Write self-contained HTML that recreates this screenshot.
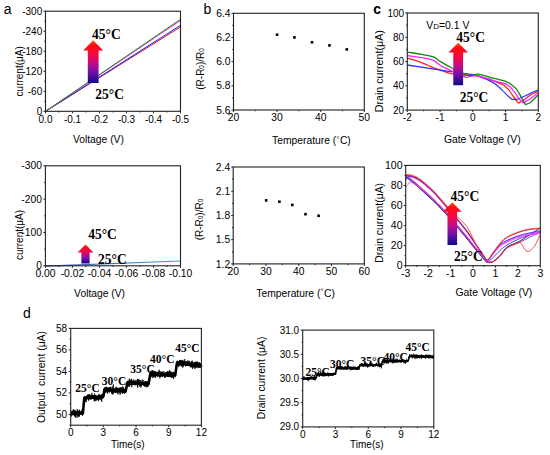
<!DOCTYPE html>
<html><head><meta charset="utf-8"><style>
html,body{margin:0;padding:0;background:#fff;}
svg{display:block;}
</style></head><body>
<svg width="550" height="455" viewBox="0 0 550 455">
<rect width="550" height="455" fill="#fff"/>
<defs><linearGradient id="g1" x1="0" y1="0" x2="0" y2="1"><stop offset="0" stop-color="#ff5a10"/><stop offset="0.12" stop-color="#ff0a10"/><stop offset="0.3" stop-color="#f8083a"/><stop offset="0.5" stop-color="#d00a7a"/><stop offset="0.72" stop-color="#7a10a8"/><stop offset="1" stop-color="#10088a"/></linearGradient></defs>
<polyline points="45.50,111.30 180.50,26.90" fill="none" stroke="#d01010" stroke-width="1.0" stroke-linejoin="round" />
<polyline points="45.50,111.30 180.50,25.30" fill="none" stroke="#2020ff" stroke-width="1.0" stroke-linejoin="round" />
<polyline points="45.50,111.30 180.50,20.40" fill="none" stroke="#ff20ff" stroke-width="1.0" stroke-linejoin="round" />
<polyline points="45.50,111.30 180.50,19.30" fill="none" stroke="#1a8a1a" stroke-width="1.0" stroke-linejoin="round" />
<path d="M93.20,40.20 L103.20,50.60 L98.60,50.60 L98.60,83.00 L87.80,83.00 L87.80,50.60 L83.20,50.60 Z" fill="url(#g1)"/>
<rect x="45.50" y="11.20" width="135.00" height="100.10" fill="none" stroke="#222" stroke-width="1.1"/>
<line x1="45.50" y1="111.30" x2="45.50" y2="113.30" stroke="#222" stroke-width="1"/>
<text x="45.50" y="122.50" font-size="10" text-anchor="middle" font-family='"Liberation Sans", sans-serif' font-weight="normal" >0.0</text>
<line x1="59.00" y1="111.30" x2="59.00" y2="112.50" stroke="#222" stroke-width="1"/>
<line x1="72.50" y1="111.30" x2="72.50" y2="113.30" stroke="#222" stroke-width="1"/>
<text x="72.50" y="122.50" font-size="10" text-anchor="middle" font-family='"Liberation Sans", sans-serif' font-weight="normal" >-0.1</text>
<line x1="86.00" y1="111.30" x2="86.00" y2="112.50" stroke="#222" stroke-width="1"/>
<line x1="99.50" y1="111.30" x2="99.50" y2="113.30" stroke="#222" stroke-width="1"/>
<text x="99.50" y="122.50" font-size="10" text-anchor="middle" font-family='"Liberation Sans", sans-serif' font-weight="normal" >-0.2</text>
<line x1="113.00" y1="111.30" x2="113.00" y2="112.50" stroke="#222" stroke-width="1"/>
<line x1="126.50" y1="111.30" x2="126.50" y2="113.30" stroke="#222" stroke-width="1"/>
<text x="126.50" y="122.50" font-size="10" text-anchor="middle" font-family='"Liberation Sans", sans-serif' font-weight="normal" >-0.3</text>
<line x1="140.00" y1="111.30" x2="140.00" y2="112.50" stroke="#222" stroke-width="1"/>
<line x1="153.50" y1="111.30" x2="153.50" y2="113.30" stroke="#222" stroke-width="1"/>
<text x="153.50" y="122.50" font-size="10" text-anchor="middle" font-family='"Liberation Sans", sans-serif' font-weight="normal" >-0.4</text>
<line x1="167.00" y1="111.30" x2="167.00" y2="112.50" stroke="#222" stroke-width="1"/>
<line x1="180.50" y1="111.30" x2="180.50" y2="113.30" stroke="#222" stroke-width="1"/>
<text x="180.50" y="122.50" font-size="10" text-anchor="middle" font-family='"Liberation Sans", sans-serif' font-weight="normal" >-0.5</text>
<line x1="43.50" y1="111.30" x2="45.50" y2="111.30" stroke="#222" stroke-width="1"/>
<text x="42.20" y="114.85" font-size="10" text-anchor="end" font-family='"Liberation Sans", sans-serif' font-weight="normal" >0</text>
<line x1="44.30" y1="101.29" x2="45.50" y2="101.29" stroke="#222" stroke-width="1"/>
<line x1="43.50" y1="91.28" x2="45.50" y2="91.28" stroke="#222" stroke-width="1"/>
<text x="42.20" y="94.83" font-size="10" text-anchor="end" font-family='"Liberation Sans", sans-serif' font-weight="normal" >-60</text>
<line x1="44.30" y1="81.27" x2="45.50" y2="81.27" stroke="#222" stroke-width="1"/>
<line x1="43.50" y1="71.26" x2="45.50" y2="71.26" stroke="#222" stroke-width="1"/>
<text x="42.20" y="74.81" font-size="10" text-anchor="end" font-family='"Liberation Sans", sans-serif' font-weight="normal" >-120</text>
<line x1="44.30" y1="61.25" x2="45.50" y2="61.25" stroke="#222" stroke-width="1"/>
<line x1="43.50" y1="51.24" x2="45.50" y2="51.24" stroke="#222" stroke-width="1"/>
<text x="42.20" y="54.79" font-size="10" text-anchor="end" font-family='"Liberation Sans", sans-serif' font-weight="normal" >-180</text>
<line x1="44.30" y1="41.23" x2="45.50" y2="41.23" stroke="#222" stroke-width="1"/>
<line x1="43.50" y1="31.22" x2="45.50" y2="31.22" stroke="#222" stroke-width="1"/>
<text x="42.20" y="34.77" font-size="10" text-anchor="end" font-family='"Liberation Sans", sans-serif' font-weight="normal" >-240</text>
<line x1="44.30" y1="21.21" x2="45.50" y2="21.21" stroke="#222" stroke-width="1"/>
<line x1="43.50" y1="11.20" x2="45.50" y2="11.20" stroke="#222" stroke-width="1"/>
<text x="42.20" y="14.75" font-size="10" text-anchor="end" font-family='"Liberation Sans", sans-serif' font-weight="normal" >-300</text>
<text x="98.40" y="143.40" font-size="10.3" text-anchor="middle" font-family='"Liberation Sans", sans-serif' font-weight="normal" >Voltage (V)</text>
<text x="0" y="0" font-size="10" text-anchor="middle" font-family='"Liberation Sans", sans-serif' transform="translate(22.90 71.30) rotate(-90)" >current(μA)</text>
<text x="0" y="0" font-size="13.5" font-family='"Liberation Serif", serif' font-weight="bold" transform="translate(92.00 39.00) scale(1 1.1)">45°C</text>
<text x="0" y="0" font-size="13.5" font-family='"Liberation Serif", serif' font-weight="bold" transform="translate(95.30 98.90) scale(1 1.1)">25°C</text>
<text x="3.80" y="13.80" font-size="14" text-anchor="start" font-family='"Liberation Sans", sans-serif' font-weight="normal" >a</text>
<rect x="233.50" y="13.30" width="130.80" height="96.70" fill="none" stroke="#222" stroke-width="1.1"/>
<line x1="233.50" y1="110.00" x2="233.50" y2="112.00" stroke="#222" stroke-width="1"/>
<text x="233.50" y="121.00" font-size="10.3" text-anchor="middle" font-family='"Liberation Sans", sans-serif' font-weight="normal" >20</text>
<line x1="255.30" y1="110.00" x2="255.30" y2="111.20" stroke="#222" stroke-width="1"/>
<line x1="277.10" y1="110.00" x2="277.10" y2="112.00" stroke="#222" stroke-width="1"/>
<text x="277.10" y="121.00" font-size="10.3" text-anchor="middle" font-family='"Liberation Sans", sans-serif' font-weight="normal" >30</text>
<line x1="298.90" y1="110.00" x2="298.90" y2="111.20" stroke="#222" stroke-width="1"/>
<line x1="320.70" y1="110.00" x2="320.70" y2="112.00" stroke="#222" stroke-width="1"/>
<text x="320.70" y="121.00" font-size="10.3" text-anchor="middle" font-family='"Liberation Sans", sans-serif' font-weight="normal" >40</text>
<line x1="342.50" y1="110.00" x2="342.50" y2="111.20" stroke="#222" stroke-width="1"/>
<line x1="364.30" y1="110.00" x2="364.30" y2="112.00" stroke="#222" stroke-width="1"/>
<text x="364.30" y="121.00" font-size="10.3" text-anchor="middle" font-family='"Liberation Sans", sans-serif' font-weight="normal" >50</text>
<line x1="231.50" y1="110.00" x2="233.50" y2="110.00" stroke="#222" stroke-width="1"/>
<text x="230.50" y="113.66" font-size="10.3" text-anchor="end" font-family='"Liberation Sans", sans-serif' font-weight="normal" >5.6</text>
<line x1="232.30" y1="97.91" x2="233.50" y2="97.91" stroke="#222" stroke-width="1"/>
<line x1="231.50" y1="85.83" x2="233.50" y2="85.83" stroke="#222" stroke-width="1"/>
<text x="230.50" y="89.48" font-size="10.3" text-anchor="end" font-family='"Liberation Sans", sans-serif' font-weight="normal" >5.8</text>
<line x1="232.30" y1="73.74" x2="233.50" y2="73.74" stroke="#222" stroke-width="1"/>
<line x1="231.50" y1="61.65" x2="233.50" y2="61.65" stroke="#222" stroke-width="1"/>
<text x="230.50" y="65.31" font-size="10.3" text-anchor="end" font-family='"Liberation Sans", sans-serif' font-weight="normal" >6.0</text>
<line x1="232.30" y1="49.56" x2="233.50" y2="49.56" stroke="#222" stroke-width="1"/>
<line x1="231.50" y1="37.47" x2="233.50" y2="37.47" stroke="#222" stroke-width="1"/>
<text x="230.50" y="41.13" font-size="10.3" text-anchor="end" font-family='"Liberation Sans", sans-serif' font-weight="normal" >6.2</text>
<line x1="232.30" y1="25.39" x2="233.50" y2="25.39" stroke="#222" stroke-width="1"/>
<line x1="231.50" y1="13.30" x2="233.50" y2="13.30" stroke="#222" stroke-width="1"/>
<text x="230.50" y="16.96" font-size="10.3" text-anchor="end" font-family='"Liberation Sans", sans-serif' font-weight="normal" >6.4</text>
<rect x="275.80" y="33.40" width="2.6" height="2.6" fill="#000"/>
<rect x="293.10" y="36.10" width="2.6" height="2.6" fill="#000"/>
<rect x="310.70" y="41.00" width="2.6" height="2.6" fill="#000"/>
<rect x="328.20" y="44.10" width="2.6" height="2.6" fill="#000"/>
<rect x="345.50" y="48.10" width="2.6" height="2.6" fill="#000"/>
<text x="272.10" y="144.00" font-size="10.3" text-anchor="start" font-family='"Liberation Sans", sans-serif' font-weight="normal" >Temperature (<tspan font-size="7" dy="-2.4" dx="0.3">°</tspan><tspan dy="2.4" dx="0.6">C)</tspan></text>
<text x="0" y="0" font-size="10" text-anchor="middle" font-family='"Liberation Sans", sans-serif' transform="translate(203.80 68.90) rotate(-90)" >(R-R<tspan font-size="6.5" dy="0.4">0</tspan><tspan dy="-0.4">)/R</tspan><tspan font-size="6.5" dy="0.4">0</tspan></text>
<text x="203.60" y="13.80" font-size="14" text-anchor="start" font-family='"Liberation Sans", sans-serif' font-weight="normal" >b</text>
<path d="M407.30,58.20 C409.23,58.77 415.42,60.38 418.90,61.60 C422.38,62.82 425.37,64.33 428.20,65.50 C431.03,66.67 432.03,67.23 435.90,68.60 C439.77,69.97 446.83,72.63 451.40,73.70 C455.97,74.77 459.13,74.65 463.30,75.00 C467.47,75.35 472.40,75.12 476.40,75.80 C480.40,76.48 484.03,78.10 487.30,79.10 C490.57,80.10 493.28,80.80 496.00,81.80 C498.72,82.80 502.33,84.55 503.60,85.10" fill="none" stroke="#ff2020" stroke-width="1.3" stroke-linejoin="round" />
<polyline points="503.60,85.10 509.10,90.00 513.00,96.00 516.40,100.50 518.60,103.10 525.00,99.00 531.00,94.50 538.00,91.40" fill="none" stroke="#ff2020" stroke-width="1.3" stroke-linejoin="round" />
<path d="M407.30,65.00 C412.07,65.73 428.55,68.28 435.90,69.40 C443.25,70.52 446.83,71.05 451.40,71.70 C455.97,72.35 459.13,72.70 463.30,73.30 C467.47,73.90 472.40,74.25 476.40,75.30 C480.40,76.35 484.03,78.07 487.30,79.60 C490.57,81.13 493.28,82.50 496.00,84.50 C498.72,86.50 502.33,90.42 503.60,91.60" fill="none" stroke="#3030ff" stroke-width="1.3" stroke-linejoin="round" />
<polyline points="503.60,91.60 509.10,97.10 511.80,99.30 516.70,99.50 525.00,96.00 531.00,93.00 538.00,90.00" fill="none" stroke="#3030ff" stroke-width="1.3" stroke-linejoin="round" />
<path d="M407.30,55.50 C410.25,55.95 420.48,57.30 425.00,58.20 C429.52,59.10 431.82,59.68 434.40,60.90 C436.98,62.12 438.18,64.08 440.50,65.50 C442.82,66.92 445.72,68.15 448.30,69.40 C450.88,70.65 453.17,71.72 456.00,73.00 C458.83,74.28 463.23,76.47 465.30,77.10 C467.37,77.73 466.62,77.05 468.40,76.80 C470.18,76.55 472.90,75.32 476.00,75.60 C479.10,75.88 483.67,77.55 487.00,78.50 C490.33,79.45 493.00,80.48 496.00,81.30 C499.00,82.12 503.50,83.05 505.00,83.40" fill="none" stroke="#ff20ff" stroke-width="1.3" stroke-linejoin="round" />
<polyline points="505.00,83.40 510.00,86.70 515.00,92.70 519.30,99.30 522.90,102.90 530.00,99.00 538.00,92.90" fill="none" stroke="#ff20ff" stroke-width="1.3" stroke-linejoin="round" />
<path d="M407.30,52.10 C409.50,52.45 416.25,53.43 420.50,54.20 C424.75,54.97 429.47,55.47 432.80,56.70 C436.13,57.93 437.40,59.75 440.50,61.60 C443.60,63.45 448.65,66.32 451.40,67.80 C454.15,69.28 454.95,69.53 457.00,70.50 C459.05,71.47 461.53,72.72 463.70,73.60 C465.87,74.48 467.62,75.70 470.00,75.80 C472.38,75.90 474.67,73.93 478.00,74.20 C481.33,74.47 485.67,76.32 490.00,77.40 C494.33,78.48 501.67,80.15 504.00,80.70" fill="none" stroke="#108a10" stroke-width="1.3" stroke-linejoin="round" />
<polyline points="504.00,80.70 510.00,83.40 516.00,88.40 520.00,94.90 525.40,104.60 530.00,103.00 538.00,95.00" fill="none" stroke="#108a10" stroke-width="1.3" stroke-linejoin="round" />
<path d="M458.20,42.80 L468.00,52.40 L463.10,52.40 L463.10,85.30 L453.30,85.30 L453.30,52.40 L448.40,52.40 Z" fill="url(#g1)"/>
<rect x="407.30" y="13.00" width="131.00" height="97.10" fill="none" stroke="#222" stroke-width="1.1"/>
<line x1="407.30" y1="110.10" x2="407.30" y2="112.10" stroke="#222" stroke-width="1"/>
<text x="407.30" y="120.70" font-size="10" text-anchor="middle" font-family='"Liberation Sans", sans-serif' font-weight="normal" >-2</text>
<line x1="423.68" y1="110.10" x2="423.68" y2="111.30" stroke="#222" stroke-width="1"/>
<line x1="440.05" y1="110.10" x2="440.05" y2="112.10" stroke="#222" stroke-width="1"/>
<text x="440.05" y="120.70" font-size="10" text-anchor="middle" font-family='"Liberation Sans", sans-serif' font-weight="normal" >-1</text>
<line x1="456.42" y1="110.10" x2="456.42" y2="111.30" stroke="#222" stroke-width="1"/>
<line x1="472.80" y1="110.10" x2="472.80" y2="112.10" stroke="#222" stroke-width="1"/>
<text x="472.80" y="120.70" font-size="10" text-anchor="middle" font-family='"Liberation Sans", sans-serif' font-weight="normal" >0</text>
<line x1="489.17" y1="110.10" x2="489.17" y2="111.30" stroke="#222" stroke-width="1"/>
<line x1="505.55" y1="110.10" x2="505.55" y2="112.10" stroke="#222" stroke-width="1"/>
<text x="505.55" y="120.70" font-size="10" text-anchor="middle" font-family='"Liberation Sans", sans-serif' font-weight="normal" >1</text>
<line x1="521.92" y1="110.10" x2="521.92" y2="111.30" stroke="#222" stroke-width="1"/>
<line x1="538.30" y1="110.10" x2="538.30" y2="112.10" stroke="#222" stroke-width="1"/>
<text x="538.30" y="120.70" font-size="10" text-anchor="middle" font-family='"Liberation Sans", sans-serif' font-weight="normal" >2</text>
<line x1="405.30" y1="110.10" x2="407.30" y2="110.10" stroke="#222" stroke-width="1"/>
<text x="404.20" y="113.65" font-size="10" text-anchor="end" font-family='"Liberation Sans", sans-serif' font-weight="normal" >20</text>
<line x1="406.10" y1="97.96" x2="407.30" y2="97.96" stroke="#222" stroke-width="1"/>
<line x1="405.30" y1="85.82" x2="407.30" y2="85.82" stroke="#222" stroke-width="1"/>
<text x="404.20" y="89.37" font-size="10" text-anchor="end" font-family='"Liberation Sans", sans-serif' font-weight="normal" >40</text>
<line x1="406.10" y1="73.69" x2="407.30" y2="73.69" stroke="#222" stroke-width="1"/>
<line x1="405.30" y1="61.55" x2="407.30" y2="61.55" stroke="#222" stroke-width="1"/>
<text x="404.20" y="65.10" font-size="10" text-anchor="end" font-family='"Liberation Sans", sans-serif' font-weight="normal" >60</text>
<line x1="406.10" y1="49.41" x2="407.30" y2="49.41" stroke="#222" stroke-width="1"/>
<line x1="405.30" y1="37.28" x2="407.30" y2="37.28" stroke="#222" stroke-width="1"/>
<text x="404.20" y="40.83" font-size="10" text-anchor="end" font-family='"Liberation Sans", sans-serif' font-weight="normal" >80</text>
<line x1="406.10" y1="25.14" x2="407.30" y2="25.14" stroke="#222" stroke-width="1"/>
<line x1="405.30" y1="13.00" x2="407.30" y2="13.00" stroke="#222" stroke-width="1"/>
<text x="404.20" y="16.55" font-size="10" text-anchor="end" font-family='"Liberation Sans", sans-serif' font-weight="normal" >100</text>
<text x="482.30" y="142.70" font-size="10.4" text-anchor="middle" font-family='"Liberation Sans", sans-serif' font-weight="normal" >Gate Voltage (V)</text>
<text x="0" y="0" font-size="10.7" text-anchor="middle" font-family='"Liberation Sans", sans-serif' transform="translate(383.30 71.20) rotate(-90)" >Drain current(μA)</text>
<text x="426.30" y="28.80" font-size="10.4" text-anchor="start" font-family='"Liberation Sans", sans-serif' font-weight="normal" >V<tspan font-size="8">D</tspan>=0.1 V</text>
<text x="0" y="0" font-size="13.5" font-family='"Liberation Serif", serif' font-weight="bold" transform="translate(456.30 42.10) scale(1 1.1)">45°C</text>
<text x="0" y="0" font-size="13.5" font-family='"Liberation Serif", serif' font-weight="bold" transform="translate(459.70 101.60) scale(1 1.1)">25°C</text>
<text x="373.20" y="13.60" font-size="14" text-anchor="start" font-family='"Liberation Sans", sans-serif' font-weight="bold" >c</text>
<defs><linearGradient id="gl" x1="0" y1="0" x2="1" y2="0"><stop offset="0" stop-color="#4040c8"/><stop offset="0.5" stop-color="#3a78c0"/><stop offset="1" stop-color="#3aa0d8"/></linearGradient></defs>
<path d="M45.4,265.5 L180.5,260.4 L180.5,261.6 L45.4,266.7 Z" fill="url(#gl)"/>
<path d="M85.50,244.40 L93.50,252.60 L89.60,252.60 L89.60,263.50 L81.40,263.50 L81.40,252.60 L77.50,252.60 Z" fill="url(#g1)"/>
<rect x="45.40" y="165.80" width="135.10" height="100.00" fill="none" stroke="#222" stroke-width="1.1"/>
<line x1="45.40" y1="265.80" x2="45.40" y2="267.80" stroke="#222" stroke-width="1"/>
<text x="45.40" y="277.00" font-size="10.3" text-anchor="middle" font-family='"Liberation Sans", sans-serif' font-weight="normal" >0.00</text>
<line x1="58.91" y1="265.80" x2="58.91" y2="267.00" stroke="#222" stroke-width="1"/>
<line x1="72.42" y1="265.80" x2="72.42" y2="267.80" stroke="#222" stroke-width="1"/>
<text x="72.42" y="277.00" font-size="10.3" text-anchor="middle" font-family='"Liberation Sans", sans-serif' font-weight="normal" >-0.02</text>
<line x1="85.93" y1="265.80" x2="85.93" y2="267.00" stroke="#222" stroke-width="1"/>
<line x1="99.44" y1="265.80" x2="99.44" y2="267.80" stroke="#222" stroke-width="1"/>
<text x="99.44" y="277.00" font-size="10.3" text-anchor="middle" font-family='"Liberation Sans", sans-serif' font-weight="normal" >-0.04</text>
<line x1="112.95" y1="265.80" x2="112.95" y2="267.00" stroke="#222" stroke-width="1"/>
<line x1="126.46" y1="265.80" x2="126.46" y2="267.80" stroke="#222" stroke-width="1"/>
<text x="126.46" y="277.00" font-size="10.3" text-anchor="middle" font-family='"Liberation Sans", sans-serif' font-weight="normal" >-0.06</text>
<line x1="139.97" y1="265.80" x2="139.97" y2="267.00" stroke="#222" stroke-width="1"/>
<line x1="153.48" y1="265.80" x2="153.48" y2="267.80" stroke="#222" stroke-width="1"/>
<text x="153.48" y="277.00" font-size="10.3" text-anchor="middle" font-family='"Liberation Sans", sans-serif' font-weight="normal" >-0.08</text>
<line x1="166.99" y1="265.80" x2="166.99" y2="267.00" stroke="#222" stroke-width="1"/>
<line x1="180.50" y1="265.80" x2="180.50" y2="267.80" stroke="#222" stroke-width="1"/>
<text x="180.50" y="277.00" font-size="10.3" text-anchor="middle" font-family='"Liberation Sans", sans-serif' font-weight="normal" >-0.10</text>
<line x1="43.40" y1="265.80" x2="45.40" y2="265.80" stroke="#222" stroke-width="1"/>
<text x="41.90" y="269.46" font-size="10.3" text-anchor="end" font-family='"Liberation Sans", sans-serif' font-weight="normal" >0</text>
<line x1="44.20" y1="249.13" x2="45.40" y2="249.13" stroke="#222" stroke-width="1"/>
<line x1="43.40" y1="232.47" x2="45.40" y2="232.47" stroke="#222" stroke-width="1"/>
<text x="41.90" y="236.12" font-size="10.3" text-anchor="end" font-family='"Liberation Sans", sans-serif' font-weight="normal" >-100</text>
<line x1="44.20" y1="215.80" x2="45.40" y2="215.80" stroke="#222" stroke-width="1"/>
<line x1="43.40" y1="199.13" x2="45.40" y2="199.13" stroke="#222" stroke-width="1"/>
<text x="41.90" y="202.79" font-size="10.3" text-anchor="end" font-family='"Liberation Sans", sans-serif' font-weight="normal" >-200</text>
<line x1="44.20" y1="182.47" x2="45.40" y2="182.47" stroke="#222" stroke-width="1"/>
<line x1="43.40" y1="165.80" x2="45.40" y2="165.80" stroke="#222" stroke-width="1"/>
<text x="41.90" y="169.46" font-size="10.3" text-anchor="end" font-family='"Liberation Sans", sans-serif' font-weight="normal" >-300</text>
<text x="99.60" y="296.50" font-size="10.3" text-anchor="middle" font-family='"Liberation Sans", sans-serif' font-weight="normal" >Voltage (V)</text>
<text x="0" y="0" font-size="10" text-anchor="middle" font-family='"Liberation Sans", sans-serif' transform="translate(23.00 235.00) rotate(-90)" >current(μA)</text>
<text x="0" y="0" font-size="13.5" font-family='"Liberation Serif", serif' font-weight="bold" transform="translate(88.20 238.80) scale(1 1.1)">45°C</text>
<text x="0" y="0" font-size="13.5" font-family='"Liberation Serif", serif' font-weight="bold" transform="translate(98.00 264.30) scale(1 1.1)">25°C</text>
<rect x="233.20" y="167.00" width="131.10" height="96.90" fill="none" stroke="#222" stroke-width="1.1"/>
<line x1="233.20" y1="263.90" x2="233.20" y2="265.90" stroke="#222" stroke-width="1"/>
<text x="233.20" y="275.40" font-size="10.3" text-anchor="middle" font-family='"Liberation Sans", sans-serif' font-weight="normal" >20</text>
<line x1="249.59" y1="263.90" x2="249.59" y2="265.10" stroke="#222" stroke-width="1"/>
<line x1="265.98" y1="263.90" x2="265.98" y2="265.90" stroke="#222" stroke-width="1"/>
<text x="265.98" y="275.40" font-size="10.3" text-anchor="middle" font-family='"Liberation Sans", sans-serif' font-weight="normal" >30</text>
<line x1="282.36" y1="263.90" x2="282.36" y2="265.10" stroke="#222" stroke-width="1"/>
<line x1="298.75" y1="263.90" x2="298.75" y2="265.90" stroke="#222" stroke-width="1"/>
<text x="298.75" y="275.40" font-size="10.3" text-anchor="middle" font-family='"Liberation Sans", sans-serif' font-weight="normal" >40</text>
<line x1="315.14" y1="263.90" x2="315.14" y2="265.10" stroke="#222" stroke-width="1"/>
<line x1="331.52" y1="263.90" x2="331.52" y2="265.90" stroke="#222" stroke-width="1"/>
<text x="331.52" y="275.40" font-size="10.3" text-anchor="middle" font-family='"Liberation Sans", sans-serif' font-weight="normal" >50</text>
<line x1="347.91" y1="263.90" x2="347.91" y2="265.10" stroke="#222" stroke-width="1"/>
<line x1="364.30" y1="263.90" x2="364.30" y2="265.90" stroke="#222" stroke-width="1"/>
<text x="364.30" y="275.40" font-size="10.3" text-anchor="middle" font-family='"Liberation Sans", sans-serif' font-weight="normal" >60</text>
<line x1="231.20" y1="263.90" x2="233.20" y2="263.90" stroke="#222" stroke-width="1"/>
<text x="230.20" y="267.56" font-size="10.3" text-anchor="end" font-family='"Liberation Sans", sans-serif' font-weight="normal" >1.2</text>
<line x1="232.00" y1="251.79" x2="233.20" y2="251.79" stroke="#222" stroke-width="1"/>
<line x1="231.20" y1="239.67" x2="233.20" y2="239.67" stroke="#222" stroke-width="1"/>
<text x="230.20" y="243.33" font-size="10.3" text-anchor="end" font-family='"Liberation Sans", sans-serif' font-weight="normal" >1.5</text>
<line x1="232.00" y1="227.56" x2="233.20" y2="227.56" stroke="#222" stroke-width="1"/>
<line x1="231.20" y1="215.45" x2="233.20" y2="215.45" stroke="#222" stroke-width="1"/>
<text x="230.20" y="219.11" font-size="10.3" text-anchor="end" font-family='"Liberation Sans", sans-serif' font-weight="normal" >1.8</text>
<line x1="232.00" y1="203.34" x2="233.20" y2="203.34" stroke="#222" stroke-width="1"/>
<line x1="231.20" y1="191.22" x2="233.20" y2="191.22" stroke="#222" stroke-width="1"/>
<text x="230.20" y="194.88" font-size="10.3" text-anchor="end" font-family='"Liberation Sans", sans-serif' font-weight="normal" >2.1</text>
<line x1="232.00" y1="179.11" x2="233.20" y2="179.11" stroke="#222" stroke-width="1"/>
<line x1="231.20" y1="167.00" x2="233.20" y2="167.00" stroke="#222" stroke-width="1"/>
<text x="230.20" y="170.66" font-size="10.3" text-anchor="end" font-family='"Liberation Sans", sans-serif' font-weight="normal" >2.4</text>
<rect x="264.90" y="199.10" width="2.6" height="2.6" fill="#000"/>
<rect x="278.10" y="200.40" width="2.6" height="2.6" fill="#000"/>
<rect x="291.00" y="203.60" width="2.6" height="2.6" fill="#000"/>
<rect x="304.20" y="212.90" width="2.6" height="2.6" fill="#000"/>
<rect x="317.30" y="214.50" width="2.6" height="2.6" fill="#000"/>
<text x="256.30" y="296.60" font-size="10.3" text-anchor="start" font-family='"Liberation Sans", sans-serif' font-weight="normal" >Temperature (<tspan font-size="7" dy="-2.4" dx="0.3">°</tspan><tspan dy="2.4" dx="0.6">C)</tspan></text>
<text x="0" y="0" font-size="10" text-anchor="middle" font-family='"Liberation Sans", sans-serif' transform="translate(202.60 219.50) rotate(-90)" >(R-R<tspan font-size="6.5" dy="0.4">0</tspan><tspan dy="-0.4">)/R</tspan><tspan font-size="6.5" dy="0.4">0</tspan></text>
<path d="M405.70,176.90 C407.08,178.00 411.03,180.98 414.00,183.50 C416.97,186.02 420.38,189.18 423.50,192.00 C426.62,194.82 429.62,197.45 432.70,200.40 C435.78,203.35 439.12,206.67 442.00,209.70 C444.88,212.73 447.33,215.53 450.00,218.60 C452.67,221.67 455.33,224.93 458.00,228.10 C460.67,231.27 463.33,234.35 466.00,237.60 C468.67,240.85 471.67,244.77 474.00,247.60 C476.33,250.43 478.25,252.52 480.00,254.60 C481.75,256.68 483.30,258.80 484.50,260.10 C485.70,261.40 485.85,262.12 487.20,262.40 C488.55,262.68 490.48,262.95 492.60,261.80 C494.72,260.65 497.47,257.97 499.90,255.50 C502.33,253.03 503.85,249.42 507.20,247.00 C510.55,244.58 516.20,243.08 520.00,241.00 C523.80,238.92 526.62,236.67 530.00,234.50 C533.38,232.33 538.58,229.08 540.30,228.00" fill="none" stroke="#202020" stroke-width="0.9" stroke-linejoin="round" />
<path d="M405.70,176.30 C407.08,177.40 411.03,180.38 414.00,182.90 C416.97,185.42 420.38,188.58 423.50,191.40 C426.62,194.22 429.62,196.85 432.70,199.80 C435.78,202.75 439.12,206.07 442.00,209.10 C444.88,212.13 447.33,214.93 450.00,218.00 C452.67,221.07 455.33,224.33 458.00,227.50 C460.67,230.67 463.33,233.75 466.00,237.00 C468.67,240.25 471.67,244.17 474.00,247.00 C476.33,249.83 478.25,251.92 480.00,254.00 C481.75,256.08 483.30,258.20 484.50,259.50 C485.70,260.80 485.85,261.45 487.20,261.80 C488.55,262.15 490.48,262.55 492.60,261.60 C494.72,260.65 497.47,258.43 499.90,256.10 C502.33,253.77 503.85,249.92 507.20,247.60 C510.55,245.28 516.20,243.97 520.00,242.20 C523.80,240.43 526.62,238.62 530.00,237.00 C533.38,235.38 538.58,233.25 540.30,232.50" fill="none" stroke="#8a18c8" stroke-width="0.9" stroke-linejoin="round" />
<path d="M405.70,174.70 C407.08,175.80 411.03,178.78 414.00,181.30 C416.97,183.82 420.38,186.98 423.50,189.80 C426.62,192.62 429.62,195.25 432.70,198.20 C435.78,201.15 439.12,204.47 442.00,207.50 C444.88,210.53 447.33,213.33 450.00,216.40 C452.67,219.47 455.33,222.73 458.00,225.90 C460.67,229.07 463.33,232.15 466.00,235.40 C468.67,238.65 471.67,242.57 474.00,245.40 C476.33,248.23 478.25,250.32 480.00,252.40 C481.75,254.48 483.30,256.60 484.50,257.90 C485.70,259.20 485.85,259.52 487.20,260.20 C488.55,260.88 490.48,262.62 492.60,262.00 C494.72,261.38 497.47,258.83 499.90,256.50 C502.33,254.17 504.18,250.25 507.20,248.00 C510.22,245.75 515.75,243.85 518.00,243.00 C520.25,242.15 519.18,241.50 520.70,242.90 C522.22,244.30 524.83,250.82 527.10,251.40 C529.37,251.98 532.10,249.25 534.30,246.40 C536.50,243.55 539.30,236.32 540.30,234.30" fill="none" stroke="#ff3030" stroke-width="0.9" stroke-linejoin="round" />
<path d="M405.70,175.70 C407.08,176.80 411.03,179.78 414.00,182.30 C416.97,184.82 420.38,187.98 423.50,190.80 C426.62,193.62 429.62,196.25 432.70,199.20 C435.78,202.15 439.12,205.47 442.00,208.50 C444.88,211.53 447.33,214.33 450.00,217.40 C452.67,220.47 455.33,223.73 458.00,226.90 C460.67,230.07 463.33,233.15 466.00,236.40 C468.67,239.65 471.67,243.57 474.00,246.40 C476.33,249.23 478.25,251.32 480.00,253.40 C481.75,255.48 483.30,257.60 484.50,258.90 C485.70,260.20 485.85,261.35 487.20,261.20 C488.55,261.05 490.48,259.78 492.60,258.00 C494.72,256.22 497.47,252.67 499.90,250.50 C502.33,248.33 503.85,247.00 507.20,245.00 C510.55,243.00 514.48,240.75 520.00,238.50 C525.52,236.25 536.92,232.67 540.30,231.50" fill="none" stroke="#3030ff" stroke-width="0.9" stroke-linejoin="round" />
<path d="M405.70,187.00 C406.17,186.50 407.53,184.78 408.50,184.00 C409.47,183.22 409.00,181.27 411.50,182.30 C414.00,183.33 419.97,187.48 423.50,190.20 C427.03,192.92 429.62,195.65 432.70,198.60 C435.78,201.55 439.12,204.87 442.00,207.90 C444.88,210.93 447.33,213.73 450.00,216.80 C452.67,219.87 455.33,223.13 458.00,226.30 C460.67,229.47 463.33,232.55 466.00,235.80 C468.67,239.05 471.67,242.97 474.00,245.80 C476.33,248.63 478.25,250.72 480.00,252.80 C481.75,254.88 483.30,257.00 484.50,258.30 C485.70,259.60 485.23,261.90 487.20,260.60 C489.17,259.30 493.58,253.27 496.30,250.50 C499.02,247.73 499.55,246.25 503.50,244.00 C507.45,241.75 513.87,238.85 520.00,237.00 C526.13,235.15 536.92,233.58 540.30,232.90" fill="none" stroke="#ff30ff" stroke-width="0.9" stroke-linejoin="round" />
<path d="M405.70,176.70 C406.58,176.75 409.28,176.63 411.00,177.00 C412.72,177.37 414.33,178.08 416.00,178.90 C417.67,179.72 419.00,180.43 421.00,181.90 C423.00,183.37 425.50,185.45 428.00,187.70 C430.50,189.95 433.17,192.37 436.00,195.40 C438.83,198.43 441.67,202.02 445.00,205.90 C448.33,209.78 452.50,214.53 456.00,218.70 C459.50,222.87 463.00,226.95 466.00,230.90 C469.00,234.85 471.67,238.98 474.00,242.40 C476.33,245.82 478.25,248.82 480.00,251.40 C481.75,253.98 483.30,256.20 484.50,257.90 C485.70,259.60 485.23,263.00 487.20,261.60 C489.17,260.20 493.58,252.60 496.30,249.50 C499.02,246.40 499.55,245.25 503.50,243.00 C507.45,240.75 513.87,237.83 520.00,236.00 C526.13,234.17 536.92,232.67 540.30,232.00" fill="none" stroke="#ff30ff" stroke-width="0.9" stroke-linejoin="round" />
<path d="M405.70,180.30 C406.00,179.78 406.62,177.87 407.50,177.20 C408.38,176.53 409.58,176.13 411.00,176.30 C412.42,176.47 414.33,177.38 416.00,178.20 C417.67,179.02 419.00,179.73 421.00,181.20 C423.00,182.67 425.50,184.75 428.00,187.00 C430.50,189.25 433.17,191.67 436.00,194.70 C438.83,197.73 441.67,201.32 445.00,205.20 C448.33,209.08 452.50,213.83 456.00,218.00 C459.50,222.17 463.00,226.25 466.00,230.20 C469.00,234.15 471.67,238.28 474.00,241.70 C476.33,245.12 478.25,248.12 480.00,250.70 C481.75,253.28 483.30,255.50 484.50,257.20 C485.70,258.90 485.23,262.28 487.20,260.90 C489.17,259.52 493.58,252.02 496.30,248.90 C499.02,245.78 499.55,244.47 503.50,242.20 C507.45,239.93 513.87,237.22 520.00,235.30 C526.13,233.38 536.92,231.47 540.30,230.70" fill="none" stroke="#2828ff" stroke-width="0.9" stroke-linejoin="round" />
<path d="M405.70,175.40 C406.58,175.45 409.28,175.33 411.00,175.70 C412.72,176.07 414.33,176.78 416.00,177.60 C417.67,178.42 419.00,179.13 421.00,180.60 C423.00,182.07 425.50,184.15 428.00,186.40 C430.50,188.65 433.17,191.07 436.00,194.10 C438.83,197.13 441.67,200.72 445.00,204.60 C448.33,208.48 452.50,213.23 456.00,217.40 C459.50,221.57 463.00,225.65 466.00,229.60 C469.00,233.55 471.67,237.68 474.00,241.10 C476.33,244.52 478.25,247.52 480.00,250.10 C481.75,252.68 483.30,254.90 484.50,256.60 C485.70,258.30 485.85,260.78 487.20,260.30 C488.55,259.82 490.48,256.42 492.60,253.70 C494.72,250.98 497.47,246.72 499.90,244.00 C502.33,241.28 503.85,239.42 507.20,237.40 C510.55,235.38 516.20,233.22 520.00,231.90 C523.80,230.58 526.62,230.07 530.00,229.50 C533.38,228.93 538.58,228.67 540.30,228.50" fill="none" stroke="#b00c0c" stroke-width="0.9" stroke-linejoin="round" />
<path d="M405.70,174.60 C406.58,174.65 409.28,174.53 411.00,174.90 C412.72,175.27 414.33,175.98 416.00,176.80 C417.67,177.62 419.00,178.33 421.00,179.80 C423.00,181.27 425.50,183.35 428.00,185.60 C430.50,187.85 433.17,190.27 436.00,193.30 C438.83,196.33 441.58,199.97 445.00,203.80 C448.42,207.63 452.85,212.50 456.50,216.30 C460.15,220.10 463.60,221.82 466.90,226.60 C470.20,231.38 473.82,240.60 476.30,245.00 C478.78,249.40 479.98,250.45 481.80,253.00 C483.62,255.55 485.40,260.27 487.20,260.30 C489.00,260.33 490.48,256.00 492.60,253.20 C494.72,250.40 497.47,246.22 499.90,243.50 C502.33,240.78 503.85,238.92 507.20,236.90 C510.55,234.88 516.20,232.72 520.00,231.40 C523.80,230.08 526.62,229.57 530.00,229.00 C533.38,228.43 538.58,228.17 540.30,228.00" fill="none" stroke="#ff4040" stroke-width="0.9" stroke-linejoin="round" />
<path d="M452.30,202.20 L461.60,211.80 L457.10,211.80 L457.10,244.90 L447.50,244.90 L447.50,211.80 L443.00,211.80 Z" fill="url(#g1)"/>
<rect x="405.70" y="165.40" width="134.60" height="100.30" fill="none" stroke="#222" stroke-width="1.1"/>
<line x1="405.70" y1="265.70" x2="405.70" y2="267.70" stroke="#222" stroke-width="1"/>
<text x="405.70" y="276.50" font-size="10.5" text-anchor="middle" font-family='"Liberation Sans", sans-serif' font-weight="normal" >-3</text>
<line x1="416.92" y1="265.70" x2="416.92" y2="266.90" stroke="#222" stroke-width="1"/>
<line x1="428.13" y1="265.70" x2="428.13" y2="267.70" stroke="#222" stroke-width="1"/>
<text x="428.13" y="276.50" font-size="10.5" text-anchor="middle" font-family='"Liberation Sans", sans-serif' font-weight="normal" >-2</text>
<line x1="439.35" y1="265.70" x2="439.35" y2="266.90" stroke="#222" stroke-width="1"/>
<line x1="450.57" y1="265.70" x2="450.57" y2="267.70" stroke="#222" stroke-width="1"/>
<text x="450.57" y="276.50" font-size="10.5" text-anchor="middle" font-family='"Liberation Sans", sans-serif' font-weight="normal" >-1</text>
<line x1="461.78" y1="265.70" x2="461.78" y2="266.90" stroke="#222" stroke-width="1"/>
<line x1="473.00" y1="265.70" x2="473.00" y2="267.70" stroke="#222" stroke-width="1"/>
<text x="473.00" y="276.50" font-size="10.5" text-anchor="middle" font-family='"Liberation Sans", sans-serif' font-weight="normal" >0</text>
<line x1="484.22" y1="265.70" x2="484.22" y2="266.90" stroke="#222" stroke-width="1"/>
<line x1="495.43" y1="265.70" x2="495.43" y2="267.70" stroke="#222" stroke-width="1"/>
<text x="495.43" y="276.50" font-size="10.5" text-anchor="middle" font-family='"Liberation Sans", sans-serif' font-weight="normal" >1</text>
<line x1="506.65" y1="265.70" x2="506.65" y2="266.90" stroke="#222" stroke-width="1"/>
<line x1="517.87" y1="265.70" x2="517.87" y2="267.70" stroke="#222" stroke-width="1"/>
<text x="517.87" y="276.50" font-size="10.5" text-anchor="middle" font-family='"Liberation Sans", sans-serif' font-weight="normal" >2</text>
<line x1="529.08" y1="265.70" x2="529.08" y2="266.90" stroke="#222" stroke-width="1"/>
<line x1="540.30" y1="265.70" x2="540.30" y2="267.70" stroke="#222" stroke-width="1"/>
<text x="540.30" y="276.50" font-size="10.5" text-anchor="middle" font-family='"Liberation Sans", sans-serif' font-weight="normal" >3</text>
<line x1="403.70" y1="265.70" x2="405.70" y2="265.70" stroke="#222" stroke-width="1"/>
<text x="402.50" y="269.43" font-size="10.5" text-anchor="end" font-family='"Liberation Sans", sans-serif' font-weight="normal" >0</text>
<line x1="404.50" y1="255.67" x2="405.70" y2="255.67" stroke="#222" stroke-width="1"/>
<line x1="403.70" y1="245.64" x2="405.70" y2="245.64" stroke="#222" stroke-width="1"/>
<text x="402.50" y="249.37" font-size="10.5" text-anchor="end" font-family='"Liberation Sans", sans-serif' font-weight="normal" >20</text>
<line x1="404.50" y1="235.61" x2="405.70" y2="235.61" stroke="#222" stroke-width="1"/>
<line x1="403.70" y1="225.58" x2="405.70" y2="225.58" stroke="#222" stroke-width="1"/>
<text x="402.50" y="229.31" font-size="10.5" text-anchor="end" font-family='"Liberation Sans", sans-serif' font-weight="normal" >40</text>
<line x1="404.50" y1="215.55" x2="405.70" y2="215.55" stroke="#222" stroke-width="1"/>
<line x1="403.70" y1="205.52" x2="405.70" y2="205.52" stroke="#222" stroke-width="1"/>
<text x="402.50" y="209.25" font-size="10.5" text-anchor="end" font-family='"Liberation Sans", sans-serif' font-weight="normal" >60</text>
<line x1="404.50" y1="195.49" x2="405.70" y2="195.49" stroke="#222" stroke-width="1"/>
<line x1="403.70" y1="185.46" x2="405.70" y2="185.46" stroke="#222" stroke-width="1"/>
<text x="402.50" y="189.19" font-size="10.5" text-anchor="end" font-family='"Liberation Sans", sans-serif' font-weight="normal" >80</text>
<line x1="404.50" y1="175.43" x2="405.70" y2="175.43" stroke="#222" stroke-width="1"/>
<line x1="403.70" y1="165.40" x2="405.70" y2="165.40" stroke="#222" stroke-width="1"/>
<text x="402.50" y="169.13" font-size="10.5" text-anchor="end" font-family='"Liberation Sans", sans-serif' font-weight="normal" >100</text>
<text x="493.90" y="295.50" font-size="10.4" text-anchor="middle" font-family='"Liberation Sans", sans-serif' font-weight="normal" >Gate Voltage (V)</text>
<text x="0" y="0" font-size="10.4" text-anchor="middle" font-family='"Liberation Sans", sans-serif' transform="translate(383.20 222.90) rotate(-90)" >Drain current(μA)</text>
<text x="0" y="0" font-size="13.5" font-family='"Liberation Serif", serif' font-weight="bold" transform="translate(450.60 200.50) scale(1 1.1)">45°C</text>
<text x="0" y="0" font-size="13.5" font-family='"Liberation Serif", serif' font-weight="bold" transform="translate(454.10 260.70) scale(1 1.1)">25°C</text>
<polyline points="70.70,413.46 71.21,413.82 71.72,413.44 72.22,413.37 72.73,413.05 73.24,413.39 73.75,414.03 74.26,413.67 74.77,413.96 75.27,413.55 75.78,413.60 76.29,413.48 76.80,412.54 77.31,413.78 77.82,413.59 78.32,413.56 78.83,412.45 79.34,412.41 79.85,412.82 80.36,413.01 80.87,413.38 81.37,413.18 81.88,413.45 82.39,412.85 82.90,413.31 84.31,397.97 84.82,397.42 85.32,398.59 85.82,397.99 86.32,398.29 86.82,397.36 87.32,397.28 87.83,397.46 88.33,397.56 88.83,397.91 89.33,397.70 89.83,397.33 90.33,397.06 90.84,397.26 91.34,398.11 91.84,397.07 92.34,397.58 92.84,397.65 93.34,396.67 93.84,397.42 94.35,398.03 94.85,396.35 95.35,397.18 95.85,397.26 96.35,396.89 96.85,397.53 97.36,397.23 97.86,396.51 98.36,397.63 98.86,397.53 99.36,397.65 99.86,397.88 100.37,397.32 100.87,397.18 101.37,396.45 101.87,397.39 102.37,396.75 102.87,396.81 103.38,396.39 104.46,389.22 104.97,389.47 105.48,390.40 105.98,388.77 106.49,389.08 106.99,389.95 107.50,390.58 108.00,390.18 108.51,388.96 109.02,388.68 109.52,390.14 110.03,389.62 110.53,389.45 111.04,390.53 111.54,390.62 112.05,390.17 112.56,390.24 113.06,390.36 113.57,390.96 114.07,390.50 114.58,390.48 115.08,390.52 115.59,389.49 116.09,390.94 116.60,390.80 117.11,390.61 117.61,389.39 118.12,390.08 118.62,390.84 119.13,389.54 119.63,390.38 120.14,391.01 120.65,389.87 121.15,391.36 121.66,390.85 122.16,390.53 122.67,390.79 123.17,390.98 123.68,390.74 124.19,391.28 124.69,390.40 125.20,390.55 125.70,391.30 127.34,382.73 127.84,382.30 128.35,383.24 128.85,383.53 129.36,382.60 129.87,382.15 130.37,382.80 130.88,382.82 131.38,382.77 131.89,383.65 132.39,382.46 132.90,383.63 133.40,382.39 133.91,382.65 134.42,383.39 134.92,383.66 135.43,383.55 135.93,383.32 136.44,383.25 136.94,383.28 137.45,383.52 137.96,383.17 138.46,383.42 138.97,383.59 139.47,383.33 139.98,383.74 140.48,383.66 140.99,384.41 141.50,383.60 142.00,383.24 142.51,383.30 143.01,383.50 143.52,384.00 144.02,383.39 144.53,383.78 145.04,384.53 145.54,382.36 146.05,383.10 146.55,383.81 147.06,383.91 147.56,383.86 148.07,383.55 148.58,384.12 150.21,374.25 150.71,373.86 151.21,375.35 151.71,374.32 152.21,373.88 152.71,374.12 153.22,374.06 153.72,374.16 154.22,372.83 154.72,373.96 155.22,374.72 155.72,373.65 156.22,374.21 156.72,374.73 157.22,374.69 157.72,375.02 158.23,373.43 158.73,374.12 159.23,374.13 159.73,374.63 160.23,374.87 160.73,373.00 161.23,374.89 161.73,373.63 162.23,374.71 162.73,373.63 163.24,374.48 163.74,375.00 164.24,374.34 164.74,374.52 165.24,374.83 165.74,374.52 166.24,374.41 166.74,375.23 167.24,375.00 167.74,374.34 168.25,375.87 168.75,373.94 169.25,374.98 169.75,374.40 170.25,374.61 170.75,374.90 171.25,374.67 171.75,374.89 172.25,373.82 172.75,373.84 173.26,374.91 173.76,374.14 174.26,374.11 174.76,373.90 175.26,375.28 176.89,363.19 177.39,363.61 177.89,362.46 178.39,362.98 178.89,362.47 179.39,363.48 179.89,363.94 180.39,362.76 180.89,364.04 181.39,363.81 181.90,363.28 182.40,362.44 182.90,364.18 183.40,363.48 183.90,363.28 184.40,363.84 184.90,363.90 185.40,364.50 185.90,363.30 186.40,364.43 186.90,364.66 187.40,364.70 187.90,363.93 188.40,363.71 188.90,364.64 189.40,364.25 189.90,364.31 190.40,365.01 190.90,364.22 191.40,363.26 191.90,364.27 192.40,363.59 192.90,364.98 193.40,364.79 193.90,364.38 194.40,364.73 194.90,365.21 195.40,364.89 195.90,365.57 196.40,364.93 196.90,365.53 197.40,365.81 197.90,365.93 198.40,364.84 198.90,365.67 199.40,364.35 199.90,364.80 200.40,364.42 200.90,365.99 201.40,364.89" fill="none" stroke="#000" stroke-width="2.6" stroke-linejoin="round" />
<polyline points="70.70,413.56 70.78,413.25 70.87,413.53 70.95,412.57 71.03,413.97 71.12,416.61 71.20,413.64 71.28,414.47 71.37,415.26 71.45,413.22 71.54,411.41 71.62,412.61 71.70,415.37 71.79,410.75 71.87,412.53 71.95,415.25 72.04,414.88 72.12,413.55 72.20,414.90 72.29,413.81 72.37,411.52 72.45,410.86 72.54,412.43 72.62,415.08 72.71,412.55 72.79,411.98 72.87,412.20 72.96,410.90 73.04,413.30 73.12,411.49 73.21,414.11 73.29,409.48 73.37,414.05 73.46,412.40 73.54,410.18 73.62,414.71 73.71,413.01 73.79,409.68 73.87,411.98 73.96,413.96 74.04,412.69 74.13,414.79 74.21,414.73 74.29,414.59 74.38,414.01 74.46,415.72 74.54,414.57 74.63,414.21 74.71,409.90 74.79,414.96 74.88,415.66 74.96,412.93 75.04,412.63 75.13,416.73 75.21,410.44 75.30,414.22 75.38,417.54 75.46,411.84 75.55,414.59 75.63,416.62 75.71,413.20 75.80,414.36 75.88,414.94 75.96,411.86 76.05,413.24 76.13,413.89 76.21,414.79 76.30,413.33 76.38,413.05 76.47,411.65 76.55,412.77 76.63,414.89 76.72,413.54 76.80,411.92 76.88,411.94 76.97,417.90 77.05,415.30 77.13,414.44 77.22,408.95 77.30,414.41 77.38,414.17 77.47,416.21 77.55,414.07 77.63,413.22 77.72,414.22 77.80,410.03 77.89,415.09 77.97,413.88 78.05,412.13 78.14,415.58 78.22,416.39 78.30,410.93 78.39,412.18 78.47,413.81 78.55,413.62 78.64,412.63 78.72,411.64 78.80,416.90 78.89,415.06 78.97,411.26 79.06,411.00 79.14,416.18 79.22,414.96 79.31,416.38 79.39,414.65 79.47,411.79 79.56,413.71 79.64,409.60 79.72,411.99 79.81,413.16 79.89,414.15 79.97,412.02 80.06,413.04 80.14,414.03 80.22,413.89 80.31,414.33 80.39,413.60 80.48,412.69 80.56,414.58 80.64,413.32 80.73,411.83 80.81,412.16 80.89,413.22 80.98,413.04 81.06,413.49 81.14,413.21 81.23,413.51 81.31,412.98 81.39,411.07 81.48,413.92 81.56,414.99 81.65,413.94 81.73,412.87 81.81,413.95 81.90,411.55 81.98,409.96 82.06,413.28 82.15,411.60 82.23,414.44 82.31,411.33 82.40,408.70 82.48,411.40 82.56,415.85 82.65,412.51 82.73,410.83 82.82,411.86 82.90,414.04 84.31,398.62 84.40,398.07 84.48,400.29 84.57,398.96 84.65,397.72 84.73,398.77 84.82,400.57 84.90,399.40 84.98,399.49 85.07,395.90 85.15,397.49 85.23,398.98 85.32,397.23 85.40,399.55 85.48,398.74 85.57,399.27 85.65,397.36 85.74,402.05 85.82,399.82 85.90,397.34 85.99,397.86 86.07,402.12 86.15,397.12 86.24,399.18 86.32,399.36 86.40,397.70 86.49,395.70 86.57,398.00 86.66,398.29 86.74,399.60 86.82,399.01 86.91,397.71 86.99,399.12 87.07,398.58 87.16,398.01 87.24,397.75 87.32,397.24 87.41,398.82 87.49,395.86 87.57,396.58 87.66,397.65 87.74,395.15 87.83,396.89 87.91,394.22 87.99,396.47 88.08,398.59 88.16,398.58 88.24,397.53 88.33,397.22 88.41,395.20 88.49,400.72 88.58,398.48 88.66,399.46 88.75,396.10 88.83,397.28 88.91,394.50 89.00,398.92 89.08,399.17 89.16,394.36 89.25,397.49 89.33,398.65 89.41,394.58 89.50,394.47 89.58,395.75 89.66,396.49 89.75,395.17 89.83,397.61 89.92,397.98 90.00,398.63 90.08,398.74 90.17,400.10 90.25,399.52 90.33,395.31 90.42,396.67 90.50,395.73 90.58,395.70 90.67,397.38 90.75,397.53 90.84,398.35 90.92,394.81 91.00,395.41 91.09,397.47 91.17,397.16 91.25,396.97 91.34,397.39 91.42,396.20 91.50,398.68 91.59,398.09 91.67,397.33 91.75,396.34 91.84,397.18 91.92,392.85 92.01,395.80 92.09,397.53 92.17,394.91 92.26,397.80 92.34,397.71 92.42,395.11 92.51,397.02 92.59,396.91 92.67,398.22 92.76,398.48 92.84,397.37 92.93,395.99 93.01,397.18 93.09,397.32 93.18,398.67 93.26,397.92 93.34,396.19 93.43,395.11 93.51,396.78 93.59,396.15 93.68,395.51 93.76,397.20 93.84,396.56 93.93,397.57 94.01,398.28 94.10,396.68 94.18,401.33 94.26,396.83 94.35,399.25 94.43,397.58 94.51,399.27 94.60,393.33 94.68,396.09 94.76,397.78 94.85,398.38 94.93,401.33 95.02,397.90 95.10,399.52 95.18,398.65 95.27,398.95 95.35,398.20 95.43,397.07 95.52,398.20 95.60,395.49 95.68,399.33 95.77,395.59 95.85,397.74 95.93,400.92 96.02,396.93 96.10,397.34 96.19,399.28 96.27,397.35 96.35,395.92 96.44,397.73 96.52,398.28 96.60,398.50 96.69,395.97 96.77,400.26 96.85,400.11 96.94,397.31 97.02,397.73 97.11,396.54 97.19,399.67 97.27,396.06 97.36,398.40 97.44,396.44 97.52,396.07 97.61,398.47 97.69,399.51 97.77,397.22 97.86,396.09 97.94,398.61 98.02,397.15 98.11,397.76 98.19,399.81 98.28,399.15 98.36,396.33 98.44,401.10 98.53,397.22 98.61,398.54 98.69,396.10 98.78,397.13 98.86,394.22 98.94,400.23 99.03,399.51 99.11,395.12 99.20,394.63 99.28,394.43 99.36,399.18 99.45,396.39 99.53,397.07 99.61,396.64 99.70,396.96 99.78,395.31 99.86,397.20 99.95,394.71 100.03,397.03 100.11,397.67 100.20,397.94 100.28,396.75 100.37,395.60 100.45,397.41 100.53,396.31 100.62,399.79 100.70,398.43 100.78,396.93 100.87,396.32 100.95,395.92 101.03,395.52 101.12,396.51 101.20,397.61 101.29,397.98 101.37,398.07 101.45,400.66 101.54,395.89 101.62,397.11 101.70,401.84 101.79,393.91 101.87,396.19 101.95,397.36 102.04,397.34 102.12,397.76 102.20,396.66 102.29,397.69 102.37,397.15 102.46,398.37 102.54,393.84 102.62,395.55 102.71,397.04 102.79,395.29 102.87,395.26 102.96,398.10 103.04,395.93 103.12,398.11 103.21,398.29 103.29,397.54 103.38,397.88 104.46,389.53 104.55,387.32 104.63,389.66 104.72,390.49 104.80,388.82 104.88,389.56 104.97,391.01 105.05,388.24 105.13,390.83 105.22,392.91 105.30,388.81 105.38,390.00 105.47,389.50 105.55,392.38 105.63,390.30 105.72,391.30 105.80,388.60 105.89,389.75 105.97,389.77 106.05,386.77 106.14,392.24 106.22,391.32 106.30,386.83 106.39,391.07 106.47,389.59 106.55,390.57 106.64,390.44 106.72,387.27 106.81,389.46 106.89,392.37 106.97,388.86 107.06,388.10 107.14,387.53 107.22,387.77 107.31,390.42 107.39,392.73 107.47,390.59 107.56,390.28 107.64,393.66 107.73,388.99 107.81,388.73 107.89,390.78 107.98,390.82 108.06,388.16 108.14,387.90 108.23,390.39 108.31,390.32 108.39,387.68 108.48,389.57 108.56,388.99 108.65,390.70 108.73,389.72 108.81,389.78 108.90,389.33 108.98,391.73 109.06,392.30 109.15,389.32 109.23,391.39 109.31,388.66 109.40,390.08 109.48,391.24 109.56,392.54 109.65,389.32 109.73,389.85 109.82,390.31 109.90,387.44 109.98,390.01 110.07,388.84 110.15,390.63 110.23,388.08 110.32,386.64 110.40,390.07 110.48,390.45 110.57,389.08 110.65,391.53 110.74,389.56 110.82,389.00 110.90,390.84 110.99,387.37 111.07,388.89 111.15,390.01 111.24,391.49 111.32,389.78 111.40,390.58 111.49,388.95 111.57,390.58 111.66,392.90 111.74,388.91 111.82,394.10 111.91,388.99 111.99,390.12 112.07,390.39 112.16,391.84 112.24,388.00 112.32,386.53 112.41,391.14 112.49,391.47 112.58,391.18 112.66,394.59 112.74,390.47 112.83,390.56 112.91,391.71 112.99,390.77 113.08,392.97 113.16,388.04 113.24,389.51 113.33,384.30 113.41,391.54 113.49,389.53 113.58,391.74 113.66,393.83 113.75,390.17 113.83,389.75 113.91,389.34 114.00,388.77 114.08,389.12 114.16,391.28 114.25,390.26 114.33,390.32 114.41,389.92 114.50,391.77 114.58,391.06 114.67,389.98 114.75,391.36 114.83,389.97 114.92,388.28 115.00,392.71 115.08,391.04 115.17,388.62 115.25,392.09 115.33,390.84 115.42,387.60 115.50,393.00 115.59,390.84 115.67,391.79 115.75,390.61 115.84,390.03 115.92,387.65 116.00,391.94 116.09,390.35 116.17,389.81 116.25,390.90 116.34,390.44 116.42,391.46 116.51,389.69 116.59,390.26 116.67,386.69 116.76,389.61 116.84,391.48 116.92,392.61 117.01,389.72 117.09,390.14 117.17,393.04 117.26,389.80 117.34,391.61 117.42,393.22 117.51,390.43 117.59,392.46 117.68,389.17 117.76,390.73 117.84,390.25 117.93,390.58 118.01,392.31 118.09,394.46 118.18,389.27 118.26,389.43 118.34,391.26 118.43,388.62 118.51,391.26 118.60,391.39 118.68,389.95 118.76,391.33 118.85,387.80 118.93,391.73 119.01,387.82 119.10,389.26 119.18,389.51 119.26,389.77 119.35,391.92 119.43,390.60 119.52,389.79 119.60,391.40 119.68,393.17 119.77,390.49 119.85,391.11 119.93,392.60 120.02,390.95 120.10,388.32 120.18,394.74 120.27,394.26 120.35,387.14 120.44,390.45 120.52,391.23 120.60,392.17 120.69,391.67 120.77,390.07 120.85,388.75 120.94,390.72 121.02,392.30 121.10,388.70 121.19,388.81 121.27,390.52 121.35,387.27 121.44,390.12 121.52,389.83 121.61,391.34 121.69,389.39 121.77,389.08 121.86,389.92 121.94,390.51 122.02,389.47 122.11,390.62 122.19,391.88 122.27,392.62 122.36,393.51 122.44,389.29 122.53,389.91 122.61,386.40 122.69,393.86 122.78,389.40 122.86,390.58 122.94,391.53 123.03,388.34 123.11,391.44 123.19,390.61 123.28,387.56 123.36,391.16 123.45,392.70 123.53,387.50 123.61,392.05 123.70,391.04 123.78,391.49 123.86,391.44 123.95,392.91 124.03,390.32 124.11,392.19 124.20,390.01 124.28,391.95 124.37,389.33 124.45,390.53 124.53,393.67 124.62,391.48 124.70,390.46 124.78,388.79 124.87,389.40 124.95,391.07 125.03,392.35 125.12,391.48 125.20,391.65 125.28,390.69 125.37,393.06 125.45,390.11 125.54,389.84 125.62,392.29 125.70,390.89 127.34,382.24 127.42,381.74 127.50,382.29 127.59,383.79 127.67,383.33 127.75,380.68 127.84,383.47 127.92,383.05 128.01,381.05 128.09,384.07 128.17,382.28 128.26,382.19 128.34,384.12 128.42,385.02 128.51,381.60 128.59,383.52 128.67,381.29 128.76,386.72 128.84,381.95 128.93,384.83 129.01,381.70 129.09,384.18 129.18,386.58 129.26,378.49 129.34,382.08 129.43,383.67 129.51,382.67 129.59,381.69 129.68,386.49 129.76,382.97 129.85,380.05 129.93,384.30 130.01,379.92 130.10,384.81 130.18,381.88 130.26,383.11 130.35,385.01 130.43,383.07 130.51,380.51 130.60,380.00 130.68,384.90 130.76,384.15 130.85,381.51 130.93,384.36 131.02,383.75 131.10,384.01 131.18,379.07 131.27,382.40 131.35,384.45 131.43,384.17 131.52,384.43 131.60,378.75 131.68,383.22 131.77,383.78 131.85,387.28 131.94,381.33 132.02,382.39 132.10,383.02 132.19,384.47 132.27,382.21 132.35,384.92 132.44,381.63 132.52,383.43 132.60,382.09 132.69,383.26 132.77,381.82 132.86,380.28 132.94,384.86 133.02,383.52 133.11,382.06 133.19,383.35 133.27,384.70 133.36,381.36 133.44,382.84 133.52,383.95 133.61,383.93 133.69,382.47 133.78,379.46 133.86,385.16 133.94,383.61 134.03,383.08 134.11,382.59 134.19,383.51 134.28,382.34 134.36,381.33 134.44,381.82 134.53,382.07 134.61,382.04 134.69,381.12 134.78,384.17 134.86,380.87 134.95,384.22 135.03,381.38 135.11,383.71 135.20,385.45 135.28,383.46 135.36,381.88 135.45,383.21 135.53,383.38 135.61,380.19 135.70,382.11 135.78,383.42 135.87,382.35 135.95,383.29 136.03,384.40 136.12,384.46 136.20,384.70 136.28,384.17 136.37,382.68 136.45,383.15 136.53,382.72 136.62,382.65 136.70,382.88 136.79,380.26 136.87,382.63 136.95,383.16 137.04,381.55 137.12,383.17 137.20,384.09 137.29,382.94 137.37,386.75 137.45,378.80 137.54,382.88 137.62,380.13 137.71,384.91 137.79,387.76 137.87,379.00 137.96,383.47 138.04,384.14 138.12,382.75 138.21,384.20 138.29,379.46 138.37,384.72 138.46,383.91 138.54,383.32 138.62,382.29 138.71,384.38 138.79,382.47 138.88,383.68 138.96,382.44 139.04,379.49 139.13,383.26 139.21,383.66 139.29,384.60 139.38,381.84 139.46,383.27 139.54,384.38 139.63,383.59 139.71,385.45 139.80,386.73 139.88,381.81 139.96,380.09 140.05,384.82 140.13,385.96 140.21,384.94 140.30,384.76 140.38,382.32 140.46,382.17 140.55,384.89 140.63,381.84 140.72,380.31 140.80,381.70 140.88,387.64 140.97,386.68 141.05,382.24 141.13,382.18 141.22,383.81 141.30,382.15 141.38,385.65 141.47,383.30 141.55,381.59 141.64,385.66 141.72,382.45 141.80,383.82 141.89,383.43 141.97,382.92 142.05,384.01 142.14,382.29 142.22,380.33 142.30,379.72 142.39,381.32 142.47,382.19 142.55,383.45 142.64,383.58 142.72,384.44 142.81,383.70 142.89,382.15 142.97,382.30 143.06,379.91 143.14,383.23 143.22,384.34 143.31,384.42 143.39,383.32 143.47,383.24 143.56,385.13 143.64,383.57 143.73,384.80 143.81,384.54 143.89,383.92 143.98,385.78 144.06,382.59 144.14,382.96 144.23,382.20 144.31,382.22 144.39,386.22 144.48,386.57 144.56,383.63 144.65,384.56 144.73,385.59 144.81,384.97 144.90,385.65 144.98,381.46 145.06,382.53 145.15,384.39 145.23,386.06 145.31,383.80 145.40,382.17 145.48,383.03 145.57,382.52 145.65,382.18 145.73,386.20 145.82,382.59 145.90,383.69 145.98,387.34 146.07,385.68 146.15,384.24 146.23,382.63 146.32,384.37 146.40,386.44 146.48,384.74 146.57,385.83 146.65,383.86 146.74,384.58 146.82,383.36 146.90,384.43 146.99,385.92 147.07,381.28 147.15,383.61 147.24,384.13 147.32,382.76 147.40,383.21 147.49,385.07 147.57,387.14 147.66,384.81 147.74,384.30 147.82,381.12 147.91,387.03 147.99,383.89 148.07,383.71 148.16,381.87 148.24,383.68 148.32,381.91 148.41,383.90 148.49,384.58 148.58,383.84 150.21,374.59 150.29,372.66 150.38,376.55 150.46,373.01 150.54,371.03 150.63,373.80 150.71,372.82 150.79,372.41 150.88,373.52 150.96,374.62 151.04,372.12 151.13,373.90 151.21,376.56 151.29,375.30 151.38,373.88 151.46,374.36 151.55,373.94 151.63,374.06 151.71,375.39 151.80,373.99 151.88,370.06 151.96,374.11 152.05,372.64 152.13,375.26 152.21,373.12 152.30,374.41 152.38,377.86 152.46,372.38 152.55,372.25 152.63,371.76 152.71,370.09 152.80,370.97 152.88,374.79 152.96,373.09 153.05,371.00 153.13,371.65 153.22,375.22 153.30,372.86 153.38,373.56 153.47,374.74 153.55,376.49 153.63,377.48 153.72,375.94 153.80,374.43 153.88,374.50 153.97,377.26 154.05,376.62 154.13,373.67 154.22,374.98 154.30,374.69 154.38,374.29 154.47,373.35 154.55,371.95 154.63,373.30 154.72,371.58 154.80,376.29 154.89,375.12 154.97,372.16 155.05,376.59 155.14,375.73 155.22,370.97 155.30,377.35 155.39,375.60 155.47,377.73 155.55,372.13 155.64,375.13 155.72,374.95 155.80,374.57 155.89,374.52 155.97,376.03 156.05,371.70 156.14,372.13 156.22,371.87 156.30,373.29 156.39,373.21 156.47,374.87 156.56,374.70 156.64,374.30 156.72,373.10 156.81,373.50 156.89,375.87 156.97,375.55 157.06,374.43 157.14,373.71 157.22,376.90 157.31,373.25 157.39,375.37 157.47,376.23 157.56,373.82 157.64,375.67 157.72,372.38 157.81,376.00 157.89,374.62 157.97,371.58 158.06,375.42 158.14,372.76 158.23,376.46 158.31,373.13 158.39,374.01 158.48,374.77 158.56,373.73 158.64,374.73 158.73,373.35 158.81,375.44 158.89,374.31 158.98,374.66 159.06,369.62 159.14,376.28 159.23,374.36 159.31,371.28 159.39,374.47 159.48,375.10 159.56,376.13 159.64,372.47 159.73,376.95 159.81,374.05 159.90,378.39 159.98,374.07 160.06,375.48 160.15,373.70 160.23,372.43 160.31,376.19 160.40,375.87 160.48,376.95 160.56,375.79 160.65,373.36 160.73,371.51 160.81,373.23 160.90,373.19 160.98,372.96 161.06,375.33 161.15,374.90 161.23,373.89 161.32,374.64 161.40,374.10 161.48,374.71 161.57,375.63 161.65,375.99 161.73,373.19 161.82,371.80 161.90,376.79 161.98,374.56 162.07,376.25 162.15,371.57 162.23,373.81 162.32,374.42 162.40,371.92 162.48,373.50 162.57,375.61 162.65,376.21 162.73,377.09 162.82,372.91 162.90,372.00 162.99,375.27 163.07,375.99 163.15,374.72 163.24,372.18 163.32,375.72 163.40,375.74 163.49,375.34 163.57,373.57 163.65,374.92 163.74,375.75 163.82,373.45 163.90,371.27 163.99,374.97 164.07,375.23 164.15,374.43 164.24,375.92 164.32,373.42 164.40,374.28 164.49,373.90 164.57,375.39 164.66,377.13 164.74,374.00 164.82,377.92 164.91,377.03 164.99,375.77 165.07,375.43 165.16,377.44 165.24,374.13 165.32,374.25 165.41,372.63 165.49,375.24 165.57,376.73 165.66,375.35 165.74,375.16 165.82,374.11 165.91,374.74 165.99,372.03 166.07,376.23 166.16,373.76 166.24,372.58 166.33,373.18 166.41,373.06 166.49,375.91 166.58,376.26 166.66,372.16 166.74,376.04 166.83,375.98 166.91,373.48 166.99,371.94 167.08,373.21 167.16,373.40 167.24,375.06 167.33,373.87 167.41,371.03 167.49,374.88 167.58,371.88 167.66,376.03 167.74,372.44 167.83,373.31 167.91,373.04 168.00,373.57 168.08,376.70 168.16,375.94 168.25,375.52 168.33,375.04 168.41,371.87 168.50,373.62 168.58,373.57 168.66,372.85 168.75,375.37 168.83,373.25 168.91,373.31 169.00,372.74 169.08,371.02 169.16,375.53 169.25,376.78 169.33,374.82 169.41,372.86 169.50,369.93 169.58,374.82 169.67,376.60 169.75,375.04 169.83,376.11 169.92,377.05 170.00,376.45 170.08,373.79 170.17,376.33 170.25,375.86 170.33,371.93 170.42,373.86 170.50,372.13 170.58,374.36 170.67,375.53 170.75,372.74 170.83,371.06 170.92,376.76 171.00,375.20 171.08,377.06 171.17,372.31 171.25,376.37 171.34,378.09 171.42,377.98 171.50,374.21 171.59,375.03 171.67,374.31 171.75,376.27 171.84,376.34 171.92,374.73 172.00,372.27 172.09,375.84 172.17,373.78 172.25,375.65 172.34,375.03 172.42,377.35 172.50,376.52 172.59,373.82 172.67,375.19 172.75,377.59 172.84,373.68 172.92,375.34 173.01,376.62 173.09,376.74 173.17,375.49 173.26,372.36 173.34,372.46 173.42,375.03 173.51,375.27 173.59,378.94 173.67,373.15 173.76,376.55 173.84,375.93 173.92,371.78 174.01,373.23 174.09,374.91 174.17,373.79 174.26,374.36 174.34,375.43 174.42,373.25 174.51,375.43 174.59,373.55 174.68,373.71 174.76,375.55 174.84,373.67 174.93,375.13 175.01,377.36 175.09,374.69 175.18,374.40 175.26,375.90 176.89,362.20 176.98,364.67 177.06,360.66 177.14,363.90 177.23,361.98 177.31,361.51 177.39,365.88 177.48,361.44 177.56,365.88 177.64,364.02 177.73,365.38 177.81,361.26 177.89,364.97 177.98,365.41 178.06,362.75 178.14,362.74 178.23,367.14 178.31,363.27 178.39,362.26 178.48,361.92 178.56,363.76 178.64,363.57 178.73,363.32 178.81,365.95 178.89,362.48 178.98,363.85 179.06,365.54 179.14,361.36 179.23,364.84 179.31,366.20 179.39,360.79 179.48,361.24 179.56,361.35 179.64,359.98 179.73,363.90 179.81,359.98 179.89,364.00 179.98,365.63 180.06,360.42 180.14,362.64 180.23,359.92 180.31,364.52 180.39,361.95 180.48,362.76 180.56,363.31 180.64,364.16 180.73,362.65 180.81,363.27 180.89,362.33 180.98,363.46 181.06,361.28 181.14,363.39 181.23,360.01 181.31,362.47 181.39,366.57 181.48,363.46 181.56,361.19 181.64,363.78 181.73,361.70 181.81,360.55 181.90,362.11 181.98,364.63 182.06,364.04 182.15,363.23 182.23,361.83 182.31,361.58 182.40,365.72 182.48,363.85 182.56,361.82 182.65,359.86 182.73,361.13 182.81,367.67 182.90,361.52 182.98,363.35 183.06,363.85 183.15,363.24 183.23,363.04 183.31,361.19 183.40,361.74 183.48,366.41 183.56,362.26 183.65,365.00 183.73,360.69 183.81,363.11 183.90,364.03 183.98,365.36 184.06,361.70 184.15,364.63 184.23,364.28 184.31,362.38 184.40,364.45 184.48,362.12 184.56,362.31 184.65,363.64 184.73,359.06 184.81,363.50 184.90,362.00 184.98,361.22 185.06,362.99 185.15,365.02 185.23,363.04 185.31,365.89 185.40,361.78 185.48,361.53 185.56,366.41 185.65,364.46 185.73,365.39 185.81,362.39 185.90,365.17 185.98,364.26 186.06,364.93 186.15,363.88 186.23,365.89 186.31,362.75 186.40,362.22 186.48,361.36 186.56,365.85 186.65,362.63 186.73,362.12 186.81,362.31 186.90,363.16 186.98,361.76 187.06,363.44 187.15,362.88 187.23,363.01 187.31,362.33 187.40,364.03 187.48,363.20 187.56,364.18 187.65,364.42 187.73,364.59 187.81,360.29 187.90,363.11 187.98,362.68 188.06,365.36 188.15,361.37 188.23,362.85 188.31,363.57 188.40,363.51 188.48,365.77 188.56,363.35 188.65,365.75 188.73,361.62 188.81,361.04 188.90,366.21 188.98,364.88 189.06,364.98 189.15,364.37 189.23,364.99 189.31,362.11 189.40,365.80 189.48,363.29 189.56,365.88 189.65,364.37 189.73,360.87 189.81,362.05 189.90,366.16 189.98,364.02 190.06,363.59 190.15,364.68 190.23,363.56 190.31,363.36 190.40,364.47 190.48,364.55 190.56,366.90 190.65,364.40 190.73,367.53 190.81,367.41 190.90,367.27 190.98,366.17 191.06,364.59 191.15,364.62 191.23,364.15 191.31,363.16 191.40,364.30 191.48,363.33 191.56,367.22 191.65,365.35 191.73,363.69 191.81,361.20 191.90,364.37 191.98,363.77 192.06,362.64 192.15,362.56 192.23,360.68 192.31,365.48 192.40,364.41 192.48,368.92 192.56,364.48 192.65,364.29 192.73,367.01 192.81,364.79 192.90,364.86 192.98,363.95 193.06,363.56 193.15,367.15 193.23,366.31 193.31,367.54 193.40,364.03 193.48,364.69 193.56,363.15 193.65,366.30 193.73,362.30 193.81,365.63 193.90,366.55 193.98,367.09 194.06,363.10 194.15,366.56 194.23,363.51 194.31,363.44 194.40,362.49 194.48,366.71 194.56,367.56 194.65,363.76 194.73,363.48 194.81,364.21 194.90,369.06 194.98,366.51 195.07,363.89 195.15,361.77 195.23,363.69 195.32,366.86 195.40,368.02 195.48,364.40 195.57,363.69 195.65,364.01 195.73,361.68 195.82,366.44 195.90,363.06 195.98,366.72 196.07,362.02 196.15,362.77 196.23,365.43 196.32,363.65 196.40,366.29 196.48,364.98 196.57,362.98 196.65,366.04 196.73,366.43 196.82,361.75 196.90,368.12 196.98,365.87 197.07,366.32 197.15,361.88 197.23,363.83 197.32,364.46 197.40,366.90 197.48,362.60 197.57,363.58 197.65,361.64 197.73,364.69 197.82,365.70 197.90,362.26 197.98,364.13 198.07,366.01 198.15,367.85 198.23,366.29 198.32,364.65 198.40,363.17 198.48,363.59 198.57,364.07 198.65,365.45 198.73,365.13 198.82,368.06 198.90,365.72 198.98,363.42 199.07,367.88 199.15,366.87 199.23,365.44 199.32,364.05 199.40,362.11 199.48,363.56 199.57,366.86 199.65,363.95 199.73,363.08 199.82,365.67 199.90,365.76 199.98,366.38 200.07,366.47 200.15,367.76 200.23,363.95 200.32,367.05 200.40,363.72 200.48,366.59 200.57,365.72 200.65,365.84 200.73,367.08 200.82,365.41 200.90,367.34 200.98,366.95 201.07,365.70 201.15,364.52 201.23,364.21 201.32,364.60 201.40,365.16" fill="none" stroke="#000" stroke-width="0.7" stroke-linejoin="round" />
<rect x="70.70" y="328.40" width="130.70" height="96.80" fill="none" stroke="#222" stroke-width="1.1"/>
<line x1="70.70" y1="425.20" x2="70.70" y2="427.20" stroke="#222" stroke-width="1"/>
<text x="70.70" y="436.20" font-size="10" text-anchor="middle" font-family='"Liberation Sans", sans-serif' font-weight="normal" >0</text>
<line x1="87.04" y1="425.20" x2="87.04" y2="426.40" stroke="#222" stroke-width="1"/>
<line x1="103.38" y1="425.20" x2="103.38" y2="427.20" stroke="#222" stroke-width="1"/>
<text x="103.38" y="436.20" font-size="10" text-anchor="middle" font-family='"Liberation Sans", sans-serif' font-weight="normal" >3</text>
<line x1="119.71" y1="425.20" x2="119.71" y2="426.40" stroke="#222" stroke-width="1"/>
<line x1="136.05" y1="425.20" x2="136.05" y2="427.20" stroke="#222" stroke-width="1"/>
<text x="136.05" y="436.20" font-size="10" text-anchor="middle" font-family='"Liberation Sans", sans-serif' font-weight="normal" >6</text>
<line x1="152.39" y1="425.20" x2="152.39" y2="426.40" stroke="#222" stroke-width="1"/>
<line x1="168.72" y1="425.20" x2="168.72" y2="427.20" stroke="#222" stroke-width="1"/>
<text x="168.72" y="436.20" font-size="10" text-anchor="middle" font-family='"Liberation Sans", sans-serif' font-weight="normal" >9</text>
<line x1="185.06" y1="425.20" x2="185.06" y2="426.40" stroke="#222" stroke-width="1"/>
<line x1="201.40" y1="425.20" x2="201.40" y2="427.20" stroke="#222" stroke-width="1"/>
<text x="201.40" y="436.20" font-size="10" text-anchor="middle" font-family='"Liberation Sans", sans-serif' font-weight="normal" >12</text>
<line x1="68.70" y1="414.44" x2="70.70" y2="414.44" stroke="#222" stroke-width="1"/>
<text x="67.10" y="417.99" font-size="10" text-anchor="end" font-family='"Liberation Sans", sans-serif' font-weight="normal" >50</text>
<line x1="68.70" y1="392.93" x2="70.70" y2="392.93" stroke="#222" stroke-width="1"/>
<text x="67.10" y="396.48" font-size="10" text-anchor="end" font-family='"Liberation Sans", sans-serif' font-weight="normal" >52</text>
<line x1="68.70" y1="371.42" x2="70.70" y2="371.42" stroke="#222" stroke-width="1"/>
<text x="67.10" y="374.97" font-size="10" text-anchor="end" font-family='"Liberation Sans", sans-serif' font-weight="normal" >54</text>
<line x1="68.70" y1="349.91" x2="70.70" y2="349.91" stroke="#222" stroke-width="1"/>
<text x="67.10" y="353.46" font-size="10" text-anchor="end" font-family='"Liberation Sans", sans-serif' font-weight="normal" >56</text>
<line x1="68.70" y1="328.40" x2="70.70" y2="328.40" stroke="#222" stroke-width="1"/>
<text x="67.10" y="331.95" font-size="10" text-anchor="end" font-family='"Liberation Sans", sans-serif' font-weight="normal" >58</text>
<line x1="69.50" y1="425.20" x2="70.70" y2="425.20" stroke="#222" stroke-width="1"/>
<line x1="69.50" y1="403.69" x2="70.70" y2="403.69" stroke="#222" stroke-width="1"/>
<line x1="69.50" y1="382.18" x2="70.70" y2="382.18" stroke="#222" stroke-width="1"/>
<line x1="69.50" y1="360.67" x2="70.70" y2="360.67" stroke="#222" stroke-width="1"/>
<line x1="69.50" y1="339.16" x2="70.70" y2="339.16" stroke="#222" stroke-width="1"/>
<text x="127.80" y="447.60" font-size="10" text-anchor="middle" font-family='"Liberation Sans", sans-serif' font-weight="normal" >Time(s)</text>
<text x="0" y="0" font-size="10.4" text-anchor="middle" font-family='"Liberation Sans", sans-serif' transform="translate(44.60 377.00) rotate(-90)" xml:space="preserve">Output  current (μA)</text>
<text x="0" y="0" font-size="11.5" font-family='"Liberation Serif", serif' font-weight="bold" transform="translate(75.30 392.30) scale(1 1.1)">25°C</text>
<text x="0" y="0" font-size="11.5" font-family='"Liberation Serif", serif' font-weight="bold" transform="translate(101.80 385.40) scale(1 1.1)">30°C</text>
<text x="0" y="0" font-size="11.5" font-family='"Liberation Serif", serif' font-weight="bold" transform="translate(130.30 372.80) scale(1 1.1)">35°C</text>
<text x="0" y="0" font-size="11.5" font-family='"Liberation Serif", serif' font-weight="bold" transform="translate(150.10 362.70) scale(1 1.1)">40°C</text>
<text x="0" y="0" font-size="11.5" font-family='"Liberation Serif", serif' font-weight="bold" transform="translate(175.20 352.20) scale(1 1.1)">45°C</text>
<text x="23.00" y="317.70" font-size="14" text-anchor="start" font-family='"Liberation Sans", sans-serif' font-weight="normal" >d</text>
<polyline points="302.70,378.49 303.20,379.39 303.71,378.69 304.21,378.73 304.72,378.24 305.22,378.29 305.73,378.40 306.23,378.56 306.73,378.19 307.24,378.98 307.74,378.33 308.25,378.82 308.75,377.80 309.25,378.50 309.76,378.58 310.26,378.56 310.77,378.68 311.27,378.58 311.78,378.55 312.28,377.93 312.78,378.29 313.29,377.80 313.79,378.69 314.30,378.59 314.80,378.44 315.31,378.25 315.81,378.33 316.90,375.18 317.40,375.13 317.91,374.58 318.41,374.98 318.91,374.10 319.41,373.98 319.91,374.40 320.42,374.27 320.92,374.36 321.42,374.57 321.92,375.40 322.42,374.29 322.93,374.49 323.43,374.54 323.93,374.43 324.43,374.71 324.93,374.95 325.44,374.03 325.94,374.44 326.44,374.30 326.94,374.47 327.44,373.89 327.95,373.81 328.45,373.63 328.95,374.47 329.45,374.36 329.95,374.31 330.46,373.56 330.96,374.15 331.46,374.02 331.96,373.81 332.46,373.95 332.97,374.42 333.47,374.36 333.97,374.18 334.47,374.32 334.97,373.98 335.48,374.17 336.57,367.86 337.08,368.03 337.59,367.85 338.09,367.84 338.60,367.86 339.11,367.71 339.62,368.59 340.13,368.08 340.64,368.07 341.15,368.64 341.66,368.38 342.17,367.51 342.68,368.19 343.18,368.25 343.69,368.57 344.20,368.41 344.71,368.26 345.22,367.69 345.73,367.79 346.24,368.14 346.75,368.22 347.26,367.78 347.77,367.98 348.27,367.98 348.78,368.13 349.29,368.23 349.80,368.05 350.31,367.78 350.82,368.53 351.33,368.65 351.84,368.15 352.35,368.50 352.86,368.34 353.36,368.41 353.87,368.37 354.38,368.01 354.89,368.42 355.40,368.56 355.91,368.00 356.42,368.87 356.93,368.92 357.44,368.85 357.95,368.91 358.45,368.55 358.96,368.23 360.06,364.77 360.56,364.72 361.07,365.01 361.58,364.97 362.09,365.20 362.59,364.40 363.10,365.71 363.61,365.71 364.11,365.03 364.62,365.25 365.13,365.21 365.64,365.16 366.14,365.02 366.65,365.06 367.16,364.86 367.66,365.17 368.17,365.13 368.68,365.24 369.19,364.90 369.69,365.18 370.20,365.19 370.71,365.37 371.22,364.88 371.72,365.34 372.23,365.52 372.74,365.42 373.24,365.14 373.75,365.11 374.26,365.20 374.77,365.50 375.27,365.76 375.78,365.26 376.29,365.12 376.79,365.44 377.30,365.40 377.81,365.08 378.32,365.14 378.82,365.34 379.33,365.59 379.84,365.04 380.35,365.10 380.85,365.57 381.36,365.06 382.45,361.11 382.96,361.18 383.46,361.04 383.96,360.77 384.47,361.06 384.97,360.98 385.47,361.18 385.98,360.82 386.48,361.40 386.98,360.57 387.49,361.02 387.99,361.08 388.49,361.36 389.00,360.89 389.50,361.24 390.00,360.91 390.51,361.30 391.01,361.60 391.51,360.96 392.02,361.21 392.52,360.80 393.02,361.37 393.53,361.44 394.03,361.09 394.53,360.74 395.04,361.20 395.54,361.42 396.04,361.40 396.55,361.32 397.05,360.53 397.55,360.87 398.06,361.50 398.56,360.71 399.06,361.42 399.57,361.64 400.07,361.30 400.58,361.41 401.08,360.98 401.58,360.71 402.09,361.05 402.59,361.02 403.09,361.06 403.60,361.29 404.10,361.03 404.60,361.13 405.11,361.20 405.61,361.07 406.11,361.63 406.62,361.21 407.12,361.10 407.62,361.01 408.13,360.89 409.22,356.64 409.72,356.29 410.22,355.93 410.72,356.10 411.23,356.23 411.73,356.15 412.23,356.62 412.73,355.96 413.23,356.46 413.73,356.37 414.24,355.98 414.74,356.36 415.24,356.33 415.74,356.51 416.24,356.24 416.74,356.48 417.25,355.89 417.75,356.08 418.25,356.65 418.75,356.74 419.25,356.43 419.75,356.26 420.26,356.78 420.76,355.84 421.26,356.23 421.76,356.68 422.26,356.69 422.76,356.19 423.27,355.95 423.77,356.96 424.27,356.58 424.77,356.27 425.27,356.57 425.77,356.83 426.28,355.79 426.78,356.91 427.28,356.81 427.78,355.98 428.28,356.84 428.78,356.09 429.29,356.97 429.79,356.76 430.29,357.33 430.79,356.48 431.29,356.67 431.79,356.99 432.30,356.50 432.80,356.49 433.30,356.60 433.80,356.70" fill="none" stroke="#000" stroke-width="1.6" stroke-linejoin="round" />
<polyline points="302.70,377.47 302.78,378.96 302.87,379.02 302.95,378.57 303.03,380.12 303.12,378.19 303.20,379.74 303.28,377.98 303.37,379.22 303.45,376.66 303.54,378.69 303.62,378.33 303.70,378.03 303.79,377.92 303.87,378.17 303.95,377.82 304.04,376.42 304.12,377.93 304.20,377.98 304.29,378.00 304.37,377.50 304.45,378.37 304.54,379.25 304.62,378.26 304.70,378.03 304.79,379.79 304.87,379.43 304.95,379.38 305.04,379.60 305.12,378.19 305.21,378.38 305.29,379.56 305.37,377.97 305.46,378.39 305.54,378.86 305.62,378.85 305.71,378.24 305.79,379.43 305.87,378.33 305.96,379.19 306.04,379.52 306.12,379.13 306.21,379.20 306.29,377.40 306.37,377.25 306.46,377.91 306.54,378.95 306.62,379.93 306.71,377.34 306.79,378.79 306.88,377.69 306.96,377.80 307.04,378.24 307.13,379.16 307.21,378.70 307.29,379.62 307.38,377.56 307.46,379.34 307.54,379.38 307.63,378.57 307.71,378.95 307.79,377.96 307.88,377.46 307.96,378.12 308.04,377.89 308.13,381.25 308.21,378.04 308.29,380.07 308.38,378.69 308.46,378.80 308.55,379.21 308.63,377.76 308.71,379.37 308.80,378.86 308.88,377.06 308.96,379.07 309.05,379.02 309.13,378.93 309.21,380.01 309.30,378.11 309.38,378.99 309.46,379.21 309.55,377.64 309.63,379.64 309.71,377.12 309.80,377.26 309.88,379.00 309.96,377.47 310.05,378.39 310.13,376.94 310.22,378.57 310.30,377.42 310.38,378.82 310.47,377.04 310.55,378.93 310.63,378.25 310.72,378.56 310.80,378.44 310.88,378.62 310.97,377.24 311.05,376.06 311.13,378.53 311.22,377.61 311.30,378.07 311.38,378.91 311.47,376.61 311.55,377.77 311.63,377.92 311.72,377.50 311.80,378.81 311.89,378.37 311.97,377.72 312.05,377.56 312.14,379.27 312.22,377.87 312.30,379.06 312.39,378.93 312.47,376.70 312.55,377.47 312.64,378.50 312.72,378.82 312.80,379.24 312.89,379.26 312.97,379.48 313.05,378.14 313.14,378.30 313.22,379.24 313.30,378.10 313.39,379.50 313.47,376.99 313.56,379.12 313.64,378.34 313.72,376.63 313.81,379.43 313.89,378.80 313.97,378.52 314.06,377.48 314.14,378.06 314.22,379.94 314.31,377.71 314.39,375.20 314.47,377.69 314.56,377.36 314.64,378.37 314.72,378.13 314.81,377.63 314.89,377.70 314.97,379.50 315.06,377.13 315.14,380.36 315.23,377.98 315.31,377.46 315.39,379.25 315.48,379.04 315.56,377.51 315.64,379.21 315.73,376.75 315.81,377.62 316.90,375.70 316.99,374.38 317.07,373.39 317.15,375.11 317.24,375.49 317.32,374.60 317.40,372.90 317.49,374.28 317.57,375.01 317.66,375.34 317.74,376.37 317.82,374.36 317.91,374.14 317.99,374.56 318.07,375.74 318.16,373.70 318.24,375.83 318.32,371.98 318.41,375.35 318.49,373.94 318.58,375.02 318.66,375.24 318.74,373.46 318.83,374.50 318.91,374.80 318.99,375.13 319.08,373.69 319.16,373.63 319.24,372.74 319.33,376.98 319.41,374.38 319.50,374.35 319.58,373.14 319.66,375.44 319.75,374.05 319.83,375.92 319.91,375.36 320.00,374.57 320.08,375.24 320.17,373.49 320.25,374.23 320.33,373.99 320.42,373.33 320.50,374.55 320.58,374.39 320.67,375.89 320.75,371.34 320.83,373.89 320.92,373.65 321.00,374.08 321.09,374.92 321.17,374.90 321.25,374.54 321.34,374.06 321.42,374.98 321.50,374.85 321.59,372.76 321.67,374.25 321.75,373.20 321.84,373.38 321.92,374.64 322.01,374.55 322.09,374.60 322.17,373.66 322.26,374.30 322.34,373.62 322.42,374.85 322.51,375.14 322.59,376.15 322.68,375.68 322.76,373.71 322.84,374.04 322.93,373.58 323.01,374.76 323.09,376.35 323.18,375.14 323.26,372.37 323.34,373.27 323.43,373.23 323.51,374.95 323.60,374.45 323.68,374.74 323.76,376.14 323.85,373.66 323.93,373.64 324.01,376.31 324.10,374.77 324.18,373.70 324.26,372.51 324.35,372.99 324.43,372.11 324.52,374.49 324.60,374.47 324.68,375.37 324.77,374.29 324.85,373.76 324.93,373.71 325.02,376.22 325.10,372.74 325.18,374.58 325.27,374.43 325.35,374.99 325.44,374.02 325.52,374.88 325.60,375.18 325.69,374.26 325.77,373.96 325.85,374.22 325.94,373.48 326.02,374.19 326.11,374.10 326.19,374.59 326.27,375.65 326.36,375.62 326.44,373.96 326.52,374.95 326.61,374.66 326.69,375.10 326.77,374.39 326.86,374.62 326.94,373.92 327.03,373.62 327.11,375.19 327.19,375.59 327.28,374.99 327.36,374.77 327.44,374.61 327.53,373.92 327.61,372.65 327.69,374.98 327.78,374.53 327.86,373.82 327.95,373.42 328.03,375.55 328.11,372.62 328.20,376.01 328.28,374.94 328.36,376.58 328.45,373.65 328.53,374.30 328.61,373.84 328.70,374.47 328.78,374.12 328.87,373.61 328.95,375.34 329.03,373.57 329.12,373.83 329.20,374.83 329.28,373.79 329.37,373.89 329.45,374.64 329.54,373.95 329.62,373.11 329.70,374.20 329.79,374.08 329.87,375.91 329.95,373.25 330.04,375.21 330.12,373.54 330.20,373.94 330.29,373.97 330.37,374.53 330.46,375.10 330.54,375.94 330.62,373.67 330.71,375.53 330.79,375.21 330.87,375.04 330.96,373.54 331.04,375.12 331.12,374.16 331.21,374.59 331.29,374.00 331.38,374.88 331.46,375.31 331.54,375.32 331.63,374.05 331.71,375.19 331.79,375.62 331.88,373.35 331.96,375.63 332.04,372.96 332.13,374.75 332.21,374.79 332.30,375.64 332.38,374.49 332.46,373.77 332.55,373.46 332.63,373.03 332.71,374.94 332.80,373.99 332.88,373.53 332.97,374.71 333.05,373.48 333.13,373.79 333.22,373.77 333.30,375.77 333.38,375.59 333.47,374.05 333.55,372.70 333.63,374.45 333.72,374.26 333.80,374.52 333.89,374.72 333.97,373.88 334.05,375.06 334.14,374.97 334.22,374.38 334.30,373.79 334.39,373.72 334.47,374.83 334.55,373.12 334.64,374.01 334.72,373.45 334.81,372.84 334.89,374.73 334.97,374.13 335.06,374.19 335.14,374.98 335.22,372.73 335.31,374.08 335.39,374.42 335.48,374.93 336.57,366.82 336.65,368.53 336.73,368.06 336.82,369.15 336.90,368.94 336.99,368.38 337.07,369.90 337.15,367.86 337.24,367.46 337.32,367.54 337.40,366.98 337.49,367.84 337.57,366.09 337.65,367.80 337.74,368.28 337.82,368.82 337.90,367.55 337.99,369.20 338.07,367.27 338.16,367.76 338.24,366.10 338.32,367.17 338.41,367.14 338.49,369.28 338.57,368.39 338.66,366.87 338.74,368.39 338.82,368.35 338.91,367.69 338.99,367.93 339.07,367.62 339.16,367.40 339.24,366.27 339.33,367.83 339.41,369.10 339.49,369.24 339.58,367.66 339.66,367.23 339.74,367.72 339.83,368.76 339.91,368.25 339.99,367.38 340.08,368.26 340.16,367.74 340.24,368.41 340.33,367.56 340.41,366.57 340.50,367.99 340.58,368.64 340.66,366.91 340.75,367.84 340.83,368.76 340.91,367.60 341.00,367.34 341.08,369.83 341.16,368.72 341.25,368.90 341.33,367.08 341.41,369.47 341.50,366.43 341.58,367.48 341.67,368.65 341.75,369.19 341.83,367.11 341.92,367.35 342.00,368.15 342.08,366.19 342.17,368.56 342.25,368.49 342.33,367.56 342.42,368.47 342.50,368.70 342.58,368.27 342.67,368.47 342.75,369.38 342.84,367.55 342.92,368.14 343.00,367.51 343.09,368.95 343.17,367.62 343.25,368.43 343.34,368.12 343.42,368.06 343.50,369.58 343.59,367.93 343.67,369.31 343.75,368.77 343.84,369.22 343.92,367.86 344.01,368.87 344.09,368.71 344.17,367.45 344.26,368.27 344.34,367.90 344.42,367.99 344.51,369.22 344.59,367.36 344.67,366.48 344.76,366.43 344.84,367.62 344.92,367.44 345.01,368.05 345.09,368.56 345.18,369.65 345.26,368.32 345.34,368.47 345.43,367.37 345.51,368.58 345.59,369.29 345.68,369.28 345.76,366.26 345.84,368.87 345.93,369.51 346.01,368.81 346.09,366.69 346.18,367.78 346.26,368.60 346.34,368.44 346.43,367.32 346.51,367.25 346.60,368.95 346.68,366.85 346.76,369.38 346.85,368.09 346.93,368.35 347.01,366.86 347.10,367.53 347.18,368.71 347.26,366.74 347.35,369.98 347.43,366.80 347.51,366.97 347.60,368.13 347.68,368.53 347.77,368.76 347.85,367.76 347.93,367.91 348.02,367.88 348.10,367.58 348.18,365.75 348.27,368.98 348.35,368.34 348.43,368.25 348.52,367.54 348.60,368.34 348.68,368.10 348.77,368.05 348.85,369.13 348.94,366.55 349.02,368.35 349.10,367.15 349.19,367.83 349.27,369.49 349.35,367.14 349.44,368.04 349.52,367.59 349.60,369.00 349.69,367.24 349.77,366.60 349.85,368.61 349.94,367.82 350.02,367.85 350.11,369.13 350.19,367.34 350.27,367.81 350.36,368.28 350.44,368.53 350.52,367.68 350.61,369.10 350.69,370.20 350.77,367.79 350.86,369.87 350.94,366.24 351.02,369.45 351.11,367.85 351.19,368.29 351.28,367.86 351.36,367.59 351.44,367.01 351.53,367.82 351.61,369.36 351.69,369.22 351.78,367.86 351.86,367.70 351.94,367.54 352.03,367.09 352.11,369.83 352.19,368.79 352.28,368.30 352.36,367.75 352.45,367.26 352.53,369.40 352.61,368.91 352.70,367.33 352.78,369.10 352.86,367.19 352.95,368.79 353.03,367.33 353.11,367.83 353.20,368.66 353.28,368.61 353.36,369.14 353.45,367.45 353.53,369.66 353.62,369.45 353.70,368.21 353.78,368.65 353.87,367.52 353.95,368.09 354.03,367.02 354.12,368.31 354.20,368.41 354.28,369.46 354.37,369.10 354.45,368.98 354.53,367.91 354.62,368.04 354.70,367.93 354.79,368.45 354.87,366.49 354.95,368.95 355.04,366.82 355.12,367.78 355.20,368.28 355.29,367.79 355.37,369.77 355.45,368.17 355.54,369.70 355.62,369.33 355.70,367.81 355.79,368.63 355.87,369.45 355.96,367.97 356.04,368.35 356.12,367.77 356.21,368.33 356.29,367.96 356.37,368.36 356.46,369.20 356.54,369.55 356.62,368.41 356.71,368.47 356.79,369.07 356.87,368.03 356.96,367.33 357.04,369.31 357.13,367.44 357.21,369.15 357.29,367.42 357.38,369.97 357.46,367.35 357.54,369.08 357.63,369.67 357.71,367.43 357.79,369.67 357.88,367.56 357.96,366.71 358.04,368.97 358.13,368.96 358.21,368.13 358.30,366.02 358.38,368.27 358.46,368.05 358.55,367.98 358.63,368.06 358.71,366.70 358.80,367.82 358.88,369.98 358.96,369.75 360.06,364.62 360.14,364.30 360.22,365.31 360.31,365.92 360.39,365.62 360.47,363.89 360.56,365.11 360.64,365.09 360.72,366.28 360.81,366.06 360.89,365.44 360.98,366.08 361.06,364.61 361.14,366.38 361.23,364.59 361.31,365.34 361.39,365.82 361.48,364.15 361.56,364.34 361.64,363.38 361.73,365.14 361.81,364.94 361.89,364.69 361.98,365.45 362.06,363.06 362.14,364.97 362.23,365.08 362.31,364.76 362.40,365.73 362.48,366.60 362.56,364.60 362.65,364.15 362.73,364.46 362.81,365.10 362.90,365.55 362.98,364.23 363.06,365.93 363.15,364.08 363.23,365.77 363.31,365.41 363.40,365.45 363.48,366.99 363.57,364.79 363.65,364.88 363.73,365.47 363.82,365.82 363.90,363.81 363.98,365.29 364.07,364.36 364.15,365.62 364.23,366.29 364.32,365.09 364.40,364.95 364.48,365.22 364.57,362.36 364.65,365.76 364.73,365.57 364.82,365.21 364.90,364.70 364.99,364.39 365.07,364.90 365.15,366.17 365.24,364.97 365.32,366.30 365.40,362.72 365.49,364.65 365.57,365.32 365.65,365.06 365.74,363.56 365.82,364.47 365.90,366.22 365.99,363.90 366.07,364.18 366.15,364.09 366.24,364.59 366.32,365.68 366.41,365.63 366.49,363.24 366.57,366.43 366.66,364.56 366.74,364.56 366.82,366.62 366.91,365.03 366.99,363.98 367.07,364.52 367.16,364.45 367.24,364.19 367.32,364.81 367.41,365.92 367.49,365.44 367.58,363.86 367.66,367.66 367.74,364.22 367.83,365.23 367.91,365.16 367.99,365.82 368.08,364.83 368.16,365.55 368.24,367.05 368.33,365.22 368.41,364.15 368.49,365.44 368.58,364.41 368.66,364.81 368.74,365.32 368.83,365.45 368.91,364.89 369.00,365.92 369.08,364.98 369.16,363.97 369.25,365.96 369.33,364.83 369.41,366.27 369.50,364.57 369.58,365.69 369.66,365.45 369.75,362.71 369.83,363.81 369.91,364.15 370.00,366.46 370.08,363.45 370.17,366.01 370.25,366.18 370.33,365.63 370.42,365.80 370.50,364.73 370.58,365.18 370.67,365.39 370.75,365.57 370.83,365.84 370.92,365.01 371.00,364.56 371.08,364.69 371.17,365.58 371.25,363.69 371.33,364.06 371.42,364.83 371.50,364.70 371.59,364.96 371.67,362.78 371.75,364.90 371.84,364.99 371.92,365.93 372.00,363.41 372.09,364.94 372.17,365.66 372.25,365.67 372.34,366.32 372.42,366.19 372.50,364.27 372.59,365.81 372.67,364.93 372.75,364.50 372.84,366.64 372.92,364.67 373.01,364.46 373.09,364.87 373.17,364.47 373.26,366.17 373.34,365.60 373.42,366.53 373.51,365.63 373.59,364.69 373.67,366.21 373.76,364.66 373.84,364.84 373.92,365.11 374.01,365.30 374.09,366.36 374.18,364.71 374.26,365.59 374.34,365.25 374.43,364.12 374.51,364.28 374.59,365.08 374.68,365.65 374.76,365.58 374.84,365.72 374.93,365.33 375.01,364.88 375.09,365.68 375.18,364.37 375.26,364.06 375.34,364.99 375.43,363.99 375.51,364.83 375.60,364.62 375.68,364.80 375.76,365.26 375.85,364.57 375.93,364.92 376.01,363.74 376.10,365.45 376.18,364.51 376.26,365.69 376.35,362.73 376.43,364.59 376.51,365.54 376.60,363.09 376.68,365.00 376.77,365.41 376.85,365.42 376.93,363.96 377.02,365.54 377.10,365.47 377.18,364.45 377.27,366.02 377.35,365.30 377.43,365.36 377.52,364.93 377.60,365.85 377.68,365.44 377.77,366.39 377.85,365.77 377.93,364.79 378.02,365.15 378.10,366.20 378.19,365.02 378.27,365.71 378.35,365.84 378.44,365.20 378.52,363.23 378.60,365.49 378.69,365.57 378.77,365.50 378.85,364.68 378.94,366.49 379.02,365.26 379.10,364.81 379.19,364.72 379.27,365.71 379.35,364.38 379.44,364.47 379.52,367.23 379.61,366.60 379.69,366.36 379.77,366.65 379.86,365.94 379.94,363.85 380.02,366.50 380.11,366.54 380.19,365.86 380.27,363.61 380.36,366.55 380.44,366.67 380.52,364.96 380.61,365.53 380.69,366.13 380.78,365.34 380.86,366.43 380.94,365.50 381.03,366.06 381.11,365.50 381.19,364.07 381.28,364.51 381.36,368.35 382.45,361.33 382.54,362.28 382.62,362.12 382.70,362.65 382.79,361.59 382.87,360.53 382.95,361.09 383.04,359.31 383.12,360.90 383.20,361.91 383.29,359.08 383.37,361.26 383.45,361.84 383.54,362.30 383.62,360.22 383.70,360.48 383.79,359.35 383.87,360.14 383.95,361.57 384.04,362.98 384.12,360.02 384.20,362.35 384.29,361.47 384.37,360.62 384.45,363.10 384.54,358.75 384.62,361.01 384.70,361.28 384.79,363.04 384.87,362.73 384.95,363.16 385.04,361.20 385.12,361.98 385.20,362.33 385.29,361.55 385.37,361.41 385.45,360.91 385.54,360.70 385.62,359.94 385.70,362.88 385.79,360.66 385.87,359.16 385.95,361.32 386.04,361.04 386.12,361.24 386.20,362.75 386.29,360.98 386.37,360.83 386.45,360.39 386.54,361.06 386.62,360.67 386.70,361.27 386.79,363.96 386.87,361.44 386.95,360.28 387.04,362.86 387.12,361.87 387.20,361.83 387.29,361.74 387.37,361.83 387.45,361.70 387.54,362.38 387.62,362.01 387.70,362.32 387.79,360.61 387.87,361.07 387.95,360.40 388.04,361.96 388.12,361.84 388.20,360.65 388.29,361.62 388.37,363.50 388.45,362.22 388.54,360.04 388.62,360.99 388.70,361.66 388.79,361.04 388.87,361.43 388.95,362.17 389.04,361.38 389.12,360.06 389.20,361.74 389.29,360.99 389.37,361.18 389.45,360.55 389.54,359.80 389.62,359.92 389.70,360.75 389.79,360.09 389.87,358.56 389.95,362.14 390.04,360.00 390.12,360.41 390.20,361.57 390.29,358.85 390.37,362.32 390.45,360.36 390.54,361.69 390.62,360.63 390.70,361.36 390.79,361.17 390.87,361.07 390.95,359.39 391.04,359.72 391.12,361.04 391.20,362.38 391.29,360.57 391.37,361.57 391.45,361.23 391.54,361.52 391.62,361.99 391.71,359.69 391.79,361.33 391.87,360.91 391.96,360.79 392.04,360.29 392.12,360.35 392.21,360.12 392.29,360.06 392.37,363.40 392.46,362.65 392.54,361.09 392.62,361.76 392.71,360.17 392.79,358.50 392.87,359.39 392.96,361.21 393.04,362.41 393.12,361.04 393.21,360.15 393.29,360.85 393.37,360.15 393.46,359.79 393.54,360.86 393.62,360.71 393.71,360.32 393.79,360.26 393.87,360.21 393.96,361.29 394.04,362.37 394.12,360.88 394.21,363.15 394.29,359.58 394.37,361.33 394.46,360.01 394.54,360.93 394.62,361.17 394.71,361.59 394.79,362.12 394.87,360.56 394.96,359.93 395.04,360.90 395.12,361.35 395.21,360.43 395.29,361.90 395.37,362.63 395.46,359.76 395.54,361.41 395.62,362.02 395.71,359.30 395.79,361.27 395.87,360.87 395.96,359.76 396.04,362.29 396.12,361.28 396.21,360.63 396.29,361.49 396.37,361.67 396.46,361.79 396.54,361.61 396.62,361.45 396.71,359.99 396.79,360.69 396.87,361.20 396.96,358.51 397.04,363.05 397.12,360.72 397.21,360.10 397.29,359.39 397.37,361.31 397.46,361.11 397.54,360.54 397.62,360.69 397.71,360.25 397.79,360.38 397.87,360.99 397.96,360.48 398.04,361.70 398.12,360.94 398.21,361.20 398.29,361.45 398.37,362.25 398.46,361.63 398.54,361.29 398.62,360.92 398.71,360.33 398.79,360.76 398.87,361.71 398.96,361.29 399.04,360.72 399.12,359.84 399.21,359.66 399.29,361.37 399.37,362.03 399.46,361.42 399.54,359.80 399.62,360.88 399.71,361.28 399.79,360.23 399.87,361.40 399.96,360.89 400.04,360.30 400.12,359.93 400.21,361.83 400.29,361.41 400.37,360.25 400.46,360.14 400.54,361.90 400.62,361.63 400.71,360.79 400.79,362.55 400.87,360.81 400.96,360.10 401.04,362.09 401.12,360.90 401.21,361.40 401.29,361.11 401.37,360.15 401.46,359.98 401.54,360.90 401.62,362.38 401.71,360.15 401.79,362.33 401.87,361.28 401.96,360.05 402.04,361.32 402.12,361.60 402.21,360.24 402.29,359.11 402.37,361.41 402.46,360.05 402.54,361.48 402.62,359.31 402.71,360.94 402.79,360.33 402.87,359.71 402.96,360.85 403.04,361.23 403.12,360.56 403.21,359.98 403.29,361.27 403.37,359.46 403.46,361.57 403.54,361.53 403.63,362.63 403.71,361.89 403.79,361.40 403.88,361.32 403.96,361.10 404.04,359.85 404.13,362.43 404.21,361.56 404.29,360.81 404.38,360.02 404.46,362.45 404.54,361.57 404.63,359.98 404.71,361.70 404.79,362.83 404.88,361.06 404.96,361.45 405.04,360.69 405.13,360.50 405.21,362.07 405.29,363.92 405.38,361.18 405.46,360.96 405.54,361.81 405.63,360.79 405.71,361.75 405.79,361.84 405.88,360.14 405.96,360.09 406.04,361.01 406.13,361.84 406.21,361.33 406.29,362.22 406.38,359.81 406.46,361.53 406.54,360.50 406.63,361.17 406.71,361.37 406.79,360.18 406.88,360.87 406.96,360.00 407.04,361.32 407.13,360.29 407.21,360.62 407.29,361.28 407.38,360.47 407.46,362.13 407.54,360.49 407.63,361.86 407.71,361.34 407.79,360.12 407.88,360.87 407.96,360.30 408.04,360.74 408.13,360.83 409.22,357.91 409.30,355.85 409.39,357.68 409.47,356.65 409.55,355.04 409.64,354.11 409.72,356.87 409.80,354.41 409.89,356.91 409.97,357.20 410.05,356.61 410.14,356.06 410.22,356.02 410.31,356.50 410.39,355.98 410.47,355.77 410.56,355.92 410.64,357.34 410.72,355.69 410.81,356.62 410.89,355.21 410.97,355.61 411.06,355.01 411.14,356.09 411.23,356.90 411.31,356.56 411.39,355.83 411.48,356.84 411.56,355.96 411.64,356.63 411.73,356.54 411.81,356.79 411.89,354.01 411.98,355.09 412.06,357.00 412.15,356.20 412.23,358.36 412.31,356.08 412.40,355.79 412.48,357.67 412.56,356.81 412.65,358.05 412.73,356.77 412.81,356.12 412.90,356.97 412.98,355.59 413.06,355.90 413.15,355.80 413.23,356.11 413.32,357.03 413.40,355.88 413.48,356.62 413.57,355.86 413.65,357.13 413.73,353.79 413.82,356.14 413.90,356.48 413.98,355.34 414.07,357.26 414.15,356.53 414.24,357.51 414.32,357.22 414.40,356.93 414.49,356.20 414.57,355.34 414.65,356.14 414.74,355.92 414.82,356.58 414.90,355.92 414.99,359.16 415.07,354.88 415.16,357.43 415.24,355.92 415.32,356.13 415.41,357.21 415.49,356.36 415.57,355.25 415.66,356.74 415.74,356.19 415.82,354.48 415.91,356.55 415.99,355.40 416.07,355.69 416.16,356.82 416.24,356.65 416.33,356.11 416.41,358.37 416.49,356.76 416.58,355.82 416.66,356.60 416.74,356.27 416.83,354.36 416.91,354.94 416.99,355.11 417.08,358.29 417.16,356.22 417.25,356.14 417.33,355.88 417.41,357.30 417.50,356.42 417.58,357.96 417.66,357.13 417.75,357.91 417.83,356.30 417.91,356.75 418.00,356.01 418.08,356.26 418.16,354.83 418.25,355.88 418.33,355.54 418.42,355.82 418.50,357.53 418.58,356.66 418.67,357.54 418.75,357.21 418.83,357.27 418.92,357.35 419.00,355.87 419.08,357.17 419.17,356.14 419.25,355.95 419.34,357.53 419.42,358.42 419.50,355.54 419.59,358.03 419.67,357.20 419.75,355.67 419.84,356.70 419.92,356.79 420.00,356.79 420.09,356.12 420.17,355.27 420.26,356.48 420.34,357.24 420.42,357.18 420.51,357.06 420.59,357.47 420.67,355.55 420.76,356.42 420.84,356.78 420.92,357.38 421.01,356.61 421.09,356.94 421.17,356.59 421.26,358.39 421.34,354.48 421.43,356.45 421.51,358.74 421.59,356.70 421.68,354.80 421.76,356.61 421.84,355.17 421.93,355.86 422.01,356.69 422.09,358.06 422.18,356.91 422.26,357.10 422.35,357.43 422.43,356.68 422.51,355.71 422.60,356.41 422.68,356.81 422.76,356.25 422.85,355.89 422.93,356.18 423.01,355.13 423.10,355.57 423.18,356.43 423.27,356.18 423.35,356.55 423.43,357.80 423.52,356.79 423.60,356.49 423.68,355.45 423.77,355.54 423.85,356.87 423.93,355.73 424.02,356.92 424.10,355.55 424.18,356.65 424.27,356.47 424.35,357.44 424.44,356.18 424.52,356.20 424.60,356.76 424.69,356.59 424.77,358.09 424.85,356.31 424.94,356.05 425.02,356.26 425.10,356.98 425.19,356.76 425.27,357.19 425.36,355.29 425.44,358.82 425.52,358.24 425.61,356.53 425.69,355.46 425.77,356.70 425.86,356.94 425.94,354.52 426.02,356.58 426.11,355.22 426.19,356.99 426.28,357.84 426.36,357.52 426.44,355.20 426.53,357.84 426.61,357.41 426.69,356.25 426.78,357.04 426.86,357.97 426.94,356.28 427.03,356.57 427.11,356.08 427.19,357.65 427.28,354.62 427.36,357.89 427.45,355.71 427.53,357.44 427.61,355.11 427.70,355.74 427.78,356.06 427.86,357.36 427.95,355.12 428.03,357.16 428.11,356.03 428.20,357.74 428.28,356.33 428.37,357.06 428.45,356.46 428.53,358.26 428.62,356.29 428.70,356.60 428.78,358.43 428.87,356.69 428.95,357.25 429.03,355.95 429.12,356.81 429.20,354.56 429.29,356.73 429.37,356.04 429.45,355.26 429.54,355.34 429.62,357.68 429.70,357.03 429.79,355.26 429.87,358.30 429.95,356.01 430.04,356.31 430.12,356.87 430.20,355.61 430.29,355.17 430.37,355.97 430.46,357.73 430.54,357.53 430.62,355.21 430.71,357.76 430.79,356.69 430.87,357.12 430.96,356.71 431.04,357.04 431.12,355.75 431.21,355.84 431.29,356.03 431.38,356.34 431.46,357.24 431.54,355.56 431.63,358.13 431.71,356.10 431.79,356.14 431.88,357.32 431.96,357.08 432.04,356.38 432.13,355.71 432.21,355.77 432.30,355.23 432.38,357.74 432.46,357.68 432.55,358.40 432.63,357.15 432.71,357.00 432.80,357.39 432.88,357.57 432.96,356.47 433.05,357.03 433.13,358.68 433.21,355.16 433.30,355.43 433.38,355.83 433.47,357.40 433.55,357.80 433.63,356.41 433.72,357.33 433.80,356.68" fill="none" stroke="#000" stroke-width="0.7" stroke-linejoin="round" />
<rect x="302.70" y="330.10" width="131.10" height="96.80" fill="none" stroke="#222" stroke-width="1.1"/>
<line x1="302.70" y1="426.90" x2="302.70" y2="428.90" stroke="#222" stroke-width="1"/>
<text x="302.70" y="437.90" font-size="10" text-anchor="middle" font-family='"Liberation Sans", sans-serif' font-weight="normal" >0</text>
<line x1="319.09" y1="426.90" x2="319.09" y2="428.10" stroke="#222" stroke-width="1"/>
<line x1="335.48" y1="426.90" x2="335.48" y2="428.90" stroke="#222" stroke-width="1"/>
<text x="335.48" y="437.90" font-size="10" text-anchor="middle" font-family='"Liberation Sans", sans-serif' font-weight="normal" >3</text>
<line x1="351.86" y1="426.90" x2="351.86" y2="428.10" stroke="#222" stroke-width="1"/>
<line x1="368.25" y1="426.90" x2="368.25" y2="428.90" stroke="#222" stroke-width="1"/>
<text x="368.25" y="437.90" font-size="10" text-anchor="middle" font-family='"Liberation Sans", sans-serif' font-weight="normal" >6</text>
<line x1="384.64" y1="426.90" x2="384.64" y2="428.10" stroke="#222" stroke-width="1"/>
<line x1="401.02" y1="426.90" x2="401.02" y2="428.90" stroke="#222" stroke-width="1"/>
<text x="401.02" y="437.90" font-size="10" text-anchor="middle" font-family='"Liberation Sans", sans-serif' font-weight="normal" >9</text>
<line x1="417.41" y1="426.90" x2="417.41" y2="428.10" stroke="#222" stroke-width="1"/>
<line x1="433.80" y1="426.90" x2="433.80" y2="428.90" stroke="#222" stroke-width="1"/>
<text x="433.80" y="437.90" font-size="10" text-anchor="middle" font-family='"Liberation Sans", sans-serif' font-weight="normal" >12</text>
<line x1="300.70" y1="426.90" x2="302.70" y2="426.90" stroke="#222" stroke-width="1"/>
<text x="299.10" y="430.45" font-size="10" text-anchor="end" font-family='"Liberation Sans", sans-serif' font-weight="normal" >29.0</text>
<line x1="301.50" y1="414.80" x2="302.70" y2="414.80" stroke="#222" stroke-width="1"/>
<line x1="300.70" y1="402.70" x2="302.70" y2="402.70" stroke="#222" stroke-width="1"/>
<text x="299.10" y="406.25" font-size="10" text-anchor="end" font-family='"Liberation Sans", sans-serif' font-weight="normal" >29.5</text>
<line x1="301.50" y1="390.60" x2="302.70" y2="390.60" stroke="#222" stroke-width="1"/>
<line x1="300.70" y1="378.50" x2="302.70" y2="378.50" stroke="#222" stroke-width="1"/>
<text x="299.10" y="382.05" font-size="10" text-anchor="end" font-family='"Liberation Sans", sans-serif' font-weight="normal" >30.0</text>
<line x1="301.50" y1="366.40" x2="302.70" y2="366.40" stroke="#222" stroke-width="1"/>
<line x1="300.70" y1="354.30" x2="302.70" y2="354.30" stroke="#222" stroke-width="1"/>
<text x="299.10" y="357.85" font-size="10" text-anchor="end" font-family='"Liberation Sans", sans-serif' font-weight="normal" >30.5</text>
<line x1="301.50" y1="342.20" x2="302.70" y2="342.20" stroke="#222" stroke-width="1"/>
<line x1="300.70" y1="330.10" x2="302.70" y2="330.10" stroke="#222" stroke-width="1"/>
<text x="299.10" y="333.65" font-size="10" text-anchor="end" font-family='"Liberation Sans", sans-serif' font-weight="normal" >31.0</text>
<text x="366.80" y="447.60" font-size="10" text-anchor="middle" font-family='"Liberation Sans", sans-serif' font-weight="normal" >Time(s)</text>
<text x="0" y="0" font-size="10.4" text-anchor="middle" font-family='"Liberation Sans", sans-serif' transform="translate(265.00 377.90) rotate(-90)" >Drain current (μA)</text>
<text x="0" y="0" font-size="11.5" font-family='"Liberation Serif", serif' font-weight="bold" transform="translate(305.40 376.00) scale(1 1.1)">25°C</text>
<text x="0" y="0" font-size="11.5" font-family='"Liberation Serif", serif' font-weight="bold" transform="translate(330.00 367.50) scale(1 1.1)">30°C</text>
<text x="0" y="0" font-size="11.5" font-family='"Liberation Serif", serif' font-weight="bold" transform="translate(360.60 364.90) scale(1 1.1)">35°C</text>
<text x="0" y="0" font-size="11.5" font-family='"Liberation Serif", serif' font-weight="bold" transform="translate(383.50 360.90) scale(1 1.1)">40°C</text>
<text x="0" y="0" font-size="11.5" font-family='"Liberation Serif", serif' font-weight="bold" transform="translate(405.40 351.10) scale(1 1.1)">45°C</text>
</svg></body></html>
